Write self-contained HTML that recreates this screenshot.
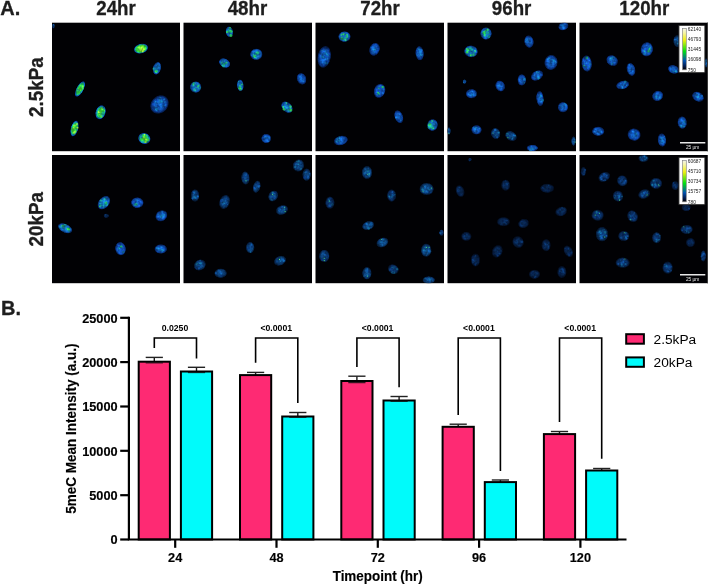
<!DOCTYPE html>
<html><head><meta charset="utf-8"><title>5meC</title>
<style>html,body{margin:0;padding:0;background:#fff;}svg{display:block;}</style>
</head><body>
<svg width="708" height="585" viewBox="0 0 708 585">
<defs><radialGradient id="gY"><stop offset="0" stop-color="#a8f030" stop-opacity="1"/><stop offset="0.45" stop-color="#50e030" stop-opacity="1"/><stop offset="0.7" stop-color="#20c848" stop-opacity="1"/><stop offset="0.85" stop-color="#0a64c4" stop-opacity="0.9"/><stop offset="1" stop-color="#0438a0" stop-opacity="0"/></radialGradient><radialGradient id="gG"><stop offset="0" stop-color="#48dc38" stop-opacity="1"/><stop offset="0.45" stop-color="#2ccc40" stop-opacity="1"/><stop offset="0.7" stop-color="#14a870" stop-opacity="1"/><stop offset="0.85" stop-color="#0a58bc" stop-opacity="0.9"/><stop offset="1" stop-color="#0434a0" stop-opacity="0"/></radialGradient><radialGradient id="gS"><stop offset="0" stop-color="#1254bc" stop-opacity="1"/><stop offset="0.55" stop-color="#1250b8" stop-opacity="1"/><stop offset="0.78" stop-color="#0e46aa" stop-opacity="0.9"/><stop offset="0.9" stop-color="#0a3894" stop-opacity="0.6"/><stop offset="1" stop-color="#062a80" stop-opacity="0"/></radialGradient><radialGradient id="gT"><stop offset="0" stop-color="#1472b4" stop-opacity="1"/><stop offset="0.55" stop-color="#1266b4" stop-opacity="1"/><stop offset="0.78" stop-color="#0e54b0" stop-opacity="0.9"/><stop offset="0.9" stop-color="#0a4098" stop-opacity="0.6"/><stop offset="1" stop-color="#062a80" stop-opacity="0"/></radialGradient><radialGradient id="gB"><stop offset="0" stop-color="#135cb8" stop-opacity="1"/><stop offset="0.5" stop-color="#1156b2" stop-opacity="1"/><stop offset="0.75" stop-color="#0c42a4" stop-opacity="0.85"/><stop offset="0.9" stop-color="#0a3690" stop-opacity="0.5"/><stop offset="1" stop-color="#062060" stop-opacity="0"/></radialGradient><radialGradient id="gD"><stop offset="0" stop-color="#0e4680" stop-opacity="1"/><stop offset="0.5" stop-color="#0c4078" stop-opacity="1"/><stop offset="0.75" stop-color="#0a366c" stop-opacity="0.8"/><stop offset="0.9" stop-color="#082c5e" stop-opacity="0.45"/><stop offset="1" stop-color="#041c48" stop-opacity="0"/></radialGradient><radialGradient id="gE"><stop offset="0" stop-color="#0f4c88" stop-opacity="1"/><stop offset="0.5" stop-color="#0d4680" stop-opacity="1"/><stop offset="0.75" stop-color="#0a3a70" stop-opacity="0.8"/><stop offset="0.9" stop-color="#082e60" stop-opacity="0.45"/><stop offset="1" stop-color="#041c48" stop-opacity="0"/></radialGradient><radialGradient id="gV"><stop offset="0" stop-color="#0b3670" stop-opacity="1"/><stop offset="0.5" stop-color="#0a3268" stop-opacity="1"/><stop offset="0.75" stop-color="#082a5c" stop-opacity="0.8"/><stop offset="0.9" stop-color="#06224c" stop-opacity="0.4"/><stop offset="1" stop-color="#041838" stop-opacity="0"/></radialGradient><radialGradient id="gW"><stop offset="0" stop-color="#092750" stop-opacity="1"/><stop offset="0.5" stop-color="#08244c" stop-opacity="1"/><stop offset="0.75" stop-color="#071e44" stop-opacity="0.75"/><stop offset="0.9" stop-color="#05183a" stop-opacity="0.35"/><stop offset="1" stop-color="#041430" stop-opacity="0"/></radialGradient><linearGradient id="cbar" x1="0" y1="0" x2="0" y2="1"><stop offset="0" stop-color="#f4f4e4"/><stop offset="0.1" stop-color="#f6f6a8"/><stop offset="0.28" stop-color="#eeee10"/><stop offset="0.55" stop-color="#00e010"/><stop offset="0.78" stop-color="#0050b0"/><stop offset="0.92" stop-color="#001848"/><stop offset="1" stop-color="#000000"/></linearGradient><filter id="dotblur" x="-50%" y="-50%" width="200%" height="200%"><feGaussianBlur stdDeviation="0.35"/></filter><filter id="soft0" x="0" y="0" width="100%" height="100%" color-interpolation-filters="sRGB"><feTurbulence type="fractalNoise" baseFrequency="0.32" numOctaves="2" seed="3" result="n"/><feColorMatrix in="n" type="matrix" values="1.8 0 0 0 -0.4  1.8 0 0 0 -0.4  1.8 0 0 0 -0.4  0 0 0 0 1" result="m"/><feComposite in="SourceGraphic" in2="m" operator="arithmetic" k1="0.6" k2="0.72" k3="0" k4="0" result="c"/><feGaussianBlur in="c" stdDeviation="0.65"/></filter><filter id="soft1" x="0" y="0" width="100%" height="100%" color-interpolation-filters="sRGB"><feTurbulence type="fractalNoise" baseFrequency="0.32" numOctaves="2" seed="3" result="n"/><feColorMatrix in="n" type="matrix" values="1.8 0 0 0 -0.4  1.8 0 0 0 -0.4  1.8 0 0 0 -0.4  0 0 0 0 1" result="m"/><feComposite in="SourceGraphic" in2="m" operator="arithmetic" k1="0.6" k2="0.72" k3="0" k4="0" result="c"/><feGaussianBlur in="c" stdDeviation="0.7"/></filter><clipPath id="cp00"><rect x="52" y="22.7" width="128" height="128.5"/></clipPath><clipPath id="cp01"><rect x="183.5" y="22.7" width="128.5" height="128.5"/></clipPath><clipPath id="cp02"><rect x="315.5" y="22.7" width="128.5" height="128.5"/></clipPath><clipPath id="cp03"><rect x="447.5" y="22.7" width="128.5" height="128.5"/></clipPath><clipPath id="cp04"><rect x="579.5" y="22.7" width="128.5" height="128.5"/></clipPath><clipPath id="cp10"><rect x="52" y="155" width="128" height="128.2"/></clipPath><clipPath id="cp11"><rect x="183.5" y="155" width="128.5" height="128.2"/></clipPath><clipPath id="cp12"><rect x="315.5" y="155" width="128.5" height="128.2"/></clipPath><clipPath id="cp13"><rect x="447.5" y="155" width="128.5" height="128.2"/></clipPath><clipPath id="cp14"><rect x="579.5" y="155" width="128.5" height="128.2"/></clipPath></defs>
<rect width="708" height="585" fill="#fff"/>
<g font-family="Liberation Sans, Arial, Helvetica, sans-serif" font-weight="bold" fill="#1e1e1e" stroke="#1e1e1e" stroke-width="0.3"><text x="0.3" y="14.6" font-size="20">A.</text><text x="1" y="314.9" font-size="20">B.</text><text transform="translate(116.0 14.8) scale(0.965 1)" font-size="19.4" text-anchor="middle">24hr</text><text transform="translate(247.4 14.8) scale(0.965 1)" font-size="19.4" text-anchor="middle">48hr</text><text transform="translate(380.0 14.8) scale(0.965 1)" font-size="19.4" text-anchor="middle">72hr</text><text transform="translate(511.6 14.8) scale(0.965 1)" font-size="19.4" text-anchor="middle">96hr</text><text transform="translate(644.3 14.8) scale(0.965 1)" font-size="19.4" text-anchor="middle">120hr</text><text transform="translate(43.4 87.1) rotate(-90) scale(0.97 1)" font-size="19.4" text-anchor="middle">2.5kPa</text><text transform="translate(43.4 219.3) rotate(-90) scale(0.97 1)" font-size="19.4" text-anchor="middle">20kPa</text></g>
<rect x="52" y="22.7" width="128" height="128.5" fill="#010104"/><g clip-path="url(#cp00)"><g filter="url(#soft0)"><ellipse cx="141.0" cy="48.6" rx="7.6" ry="5.1" fill="url(#gY)" transform="rotate(-15 141.0 48.6)"/><circle cx="140.4" cy="50.1" r="1.1" fill="#e0f440" opacity="0.65"/><circle cx="140.3" cy="49.5" r="1.0" fill="#e0f440" opacity="0.62"/><circle cx="142.6" cy="48.7" r="0.9" fill="#20c050" opacity="0.39"/><circle cx="142.4" cy="51.2" r="1.3" fill="#90e830" opacity="0.53"/><circle cx="142.1" cy="48.2" r="1.2" fill="#e0f440" opacity="0.53"/><circle cx="143.5" cy="49.3" r="1.2" fill="#e0f440" opacity="0.67"/><circle cx="138.5" cy="47.5" r="1.0" fill="#e0f440" opacity="0.50"/><circle cx="142.9" cy="51.1" r="0.9" fill="#e0f440" opacity="0.67"/><circle cx="138.4" cy="49.9" r="1.2" fill="#20c050" opacity="0.42"/><circle cx="137.3" cy="48.4" r="1.2" fill="#20c050" opacity="0.43"/><circle cx="142.8" cy="48.0" r="0.9" fill="#20c050" opacity="0.40"/><circle cx="140.0" cy="48.9" r="1.1" fill="#20c050" opacity="0.50"/><circle cx="142.7" cy="46.6" r="1.1" fill="#90e830" opacity="0.58"/><ellipse cx="157.0" cy="68.3" rx="4.2" ry="6.8" fill="url(#gT)" transform="rotate(15 157.0 68.3)"/><circle cx="154.1" cy="68.8" r="1.6" fill="#18b890" opacity="0.61"/><circle cx="158.9" cy="70.4" r="1.3" fill="#0c48b0" opacity="0.56"/><circle cx="155.8" cy="71.1" r="1.3" fill="#30e040" opacity="0.67"/><circle cx="157.1" cy="69.8" r="0.8" fill="#0c48b0" opacity="0.39"/><circle cx="156.2" cy="71.3" r="1.5" fill="#30e040" opacity="0.66"/><circle cx="154.8" cy="66.2" r="1.5" fill="#0c48b0" opacity="0.43"/><circle cx="155.1" cy="69.3" r="1.5" fill="#0c48b0" opacity="0.40"/><circle cx="157.1" cy="70.5" r="1.0" fill="#18b890" opacity="0.58"/><ellipse cx="80.0" cy="89.0" rx="3.8" ry="9" fill="url(#gG)" transform="rotate(28 80.0 89.0)"/><circle cx="79.8" cy="89.4" r="0.9" fill="#60e030" opacity="0.58"/><circle cx="82.7" cy="88.6" r="1.0" fill="#60e030" opacity="0.61"/><circle cx="81.2" cy="92.0" r="1.1" fill="#1070b8" opacity="0.55"/><circle cx="77.6" cy="90.6" r="0.7" fill="#60e030" opacity="0.44"/><circle cx="80.4" cy="90.6" r="0.7" fill="#60e030" opacity="0.43"/><circle cx="80.9" cy="89.5" r="0.7" fill="#60e030" opacity="0.43"/><circle cx="83.0" cy="86.5" r="0.7" fill="#b8ee38" opacity="0.59"/><circle cx="78.6" cy="90.2" r="1.2" fill="#1070b8" opacity="0.47"/><circle cx="79.2" cy="88.8" r="0.7" fill="#60e030" opacity="0.49"/><circle cx="81.5" cy="87.2" r="0.6" fill="#1070b8" opacity="0.49"/><circle cx="79.3" cy="92.9" r="0.6" fill="#60e030" opacity="0.69"/><circle cx="83.2" cy="86.1" r="0.8" fill="#60e030" opacity="0.47"/><ellipse cx="100.6" cy="112.3" rx="5.3" ry="7.6" fill="url(#gG)" transform="rotate(18 100.6 112.3)"/><circle cx="102.2" cy="108.7" r="1.1" fill="#b8ee38" opacity="0.55"/><circle cx="103.5" cy="108.0" r="1.2" fill="#1070b8" opacity="0.56"/><circle cx="101.3" cy="109.8" r="1.0" fill="#60e030" opacity="0.43"/><circle cx="102.3" cy="113.4" r="0.8" fill="#1070b8" opacity="0.59"/><circle cx="96.7" cy="112.9" r="1.3" fill="#1070b8" opacity="0.45"/><circle cx="100.1" cy="114.8" r="0.7" fill="#b8ee38" opacity="0.68"/><circle cx="104.2" cy="110.4" r="0.9" fill="#60e030" opacity="0.64"/><circle cx="102.4" cy="115.3" r="1.2" fill="#1070b8" opacity="0.54"/><circle cx="99.0" cy="112.1" r="1.2" fill="#b8ee38" opacity="0.74"/><circle cx="103.0" cy="112.5" r="0.9" fill="#1070b8" opacity="0.53"/><circle cx="100.7" cy="114.1" r="0.7" fill="#1070b8" opacity="0.55"/><circle cx="101.4" cy="116.7" r="1.3" fill="#60e030" opacity="0.52"/><circle cx="99.5" cy="111.3" r="0.6" fill="#1070b8" opacity="0.52"/><circle cx="97.4" cy="110.3" r="0.9" fill="#1070b8" opacity="0.56"/><ellipse cx="159.5" cy="104.5" rx="10.5" ry="8.8" fill="url(#gB)" transform="rotate(-45 159.5 104.5)"/><circle cx="162.3" cy="106.0" r="0.8" fill="#1a80d0" opacity="0.50"/><circle cx="162.2" cy="107.6" r="0.7" fill="#0a3c98" opacity="0.44"/><circle cx="156.4" cy="109.3" r="1.2" fill="#18a8b0" opacity="0.53"/><circle cx="155.6" cy="108.4" r="1.0" fill="#1a80d0" opacity="0.47"/><circle cx="159.9" cy="104.6" r="1.2" fill="#1a80d0" opacity="0.47"/><circle cx="155.6" cy="101.8" r="0.8" fill="#18a8b0" opacity="0.45"/><circle cx="158.4" cy="102.7" r="1.0" fill="#1a80d0" opacity="0.43"/><circle cx="156.9" cy="100.8" r="1.0" fill="#0a3c98" opacity="0.58"/><circle cx="156.8" cy="109.6" r="1.0" fill="#18a8b0" opacity="0.48"/><circle cx="156.7" cy="109.2" r="0.9" fill="#0a3c98" opacity="0.53"/><circle cx="160.2" cy="97.8" r="0.8" fill="#18a8b0" opacity="0.54"/><circle cx="159.2" cy="102.0" r="0.7" fill="#18a8b0" opacity="0.35"/><circle cx="160.8" cy="105.6" r="1.1" fill="#0a3c98" opacity="0.58"/><circle cx="165.2" cy="105.1" r="1.1" fill="#1a80d0" opacity="0.57"/><circle cx="161.5" cy="101.6" r="1.3" fill="#18a8b0" opacity="0.44"/><circle cx="164.1" cy="99.4" r="0.7" fill="#18a8b0" opacity="0.44"/><circle cx="159.9" cy="107.4" r="0.8" fill="#0a3c98" opacity="0.36"/><circle cx="155.2" cy="106.9" r="0.6" fill="#1a80d0" opacity="0.51"/><circle cx="158.1" cy="105.8" r="1.3" fill="#0a3c98" opacity="0.59"/><circle cx="163.1" cy="103.7" r="0.6" fill="#0a3c98" opacity="0.42"/><circle cx="164.0" cy="104.2" r="1.2" fill="#0a3c98" opacity="0.42"/><circle cx="166.0" cy="104.9" r="1.0" fill="#0a3c98" opacity="0.38"/><circle cx="165.0" cy="101.7" r="0.9" fill="#1a80d0" opacity="0.59"/><circle cx="153.3" cy="104.7" r="0.7" fill="#0a3c98" opacity="0.38"/><circle cx="159.6" cy="99.9" r="0.8" fill="#18a8b0" opacity="0.53"/><circle cx="160.9" cy="106.3" r="1.0" fill="#1a80d0" opacity="0.39"/><circle cx="161.0" cy="104.7" r="0.7" fill="#1a80d0" opacity="0.43"/><ellipse cx="74.5" cy="128.5" rx="4" ry="8.5" fill="url(#gG)" transform="rotate(15 74.5 128.5)"/><circle cx="75.4" cy="125.3" r="1.0" fill="#b8ee38" opacity="0.59"/><circle cx="75.8" cy="129.2" r="0.6" fill="#1070b8" opacity="0.49"/><circle cx="74.2" cy="132.5" r="1.3" fill="#b8ee38" opacity="0.74"/><circle cx="72.3" cy="129.7" r="1.2" fill="#60e030" opacity="0.56"/><circle cx="74.9" cy="122.8" r="0.8" fill="#1070b8" opacity="0.53"/><circle cx="74.1" cy="125.4" r="0.8" fill="#b8ee38" opacity="0.52"/><circle cx="76.1" cy="131.3" r="0.8" fill="#b8ee38" opacity="0.51"/><circle cx="77.1" cy="124.2" r="1.1" fill="#b8ee38" opacity="0.56"/><circle cx="73.0" cy="132.2" r="0.7" fill="#60e030" opacity="0.49"/><circle cx="77.5" cy="127.8" r="1.0" fill="#b8ee38" opacity="0.79"/><circle cx="73.0" cy="131.6" r="0.6" fill="#60e030" opacity="0.55"/><circle cx="73.3" cy="128.1" r="1.0" fill="#b8ee38" opacity="0.56"/><ellipse cx="144.3" cy="138.5" rx="6.6" ry="5.8" fill="url(#gG)" transform="rotate(20 144.3 138.5)"/><circle cx="146.2" cy="140.7" r="0.6" fill="#b8ee38" opacity="0.58"/><circle cx="143.6" cy="141.6" r="1.0" fill="#1070b8" opacity="0.52"/><circle cx="144.7" cy="134.6" r="0.9" fill="#b8ee38" opacity="0.80"/><circle cx="145.6" cy="142.0" r="1.1" fill="#b8ee38" opacity="0.75"/><circle cx="147.8" cy="137.6" r="1.1" fill="#1070b8" opacity="0.39"/><circle cx="141.3" cy="136.9" r="1.2" fill="#1070b8" opacity="0.56"/><circle cx="141.3" cy="135.3" r="1.1" fill="#1070b8" opacity="0.42"/><circle cx="145.8" cy="139.4" r="0.9" fill="#b8ee38" opacity="0.75"/><circle cx="141.4" cy="136.2" r="1.0" fill="#1070b8" opacity="0.48"/><circle cx="148.3" cy="140.0" r="1.1" fill="#60e030" opacity="0.57"/><circle cx="144.0" cy="137.4" r="1.1" fill="#b8ee38" opacity="0.50"/><circle cx="142.7" cy="141.7" r="0.7" fill="#1070b8" opacity="0.59"/><circle cx="141.5" cy="137.6" r="0.9" fill="#1070b8" opacity="0.54"/><ellipse cx="53.5" cy="26.0" rx="1.5" ry="2.5" fill="url(#gD)" transform="rotate(0 53.5 26.0)"/><circle cx="52.9" cy="25.0" r="0.6" fill="#1668c0" opacity="0.42"/><circle cx="53.5" cy="25.0" r="1.0" fill="#1668c0" opacity="0.37"/><circle cx="53.4" cy="27.5" r="1.1" fill="#072a70" opacity="0.43"/></g></g><rect x="183.5" y="22.7" width="128.5" height="128.5" fill="#010104"/><g clip-path="url(#cp01)"><g filter="url(#soft0)"><ellipse cx="229.4" cy="31.8" rx="4" ry="5.6" fill="url(#gT)" transform="rotate(-10 229.4 31.8)"/><circle cx="227.4" cy="31.9" r="1.2" fill="#30e040" opacity="0.81"/><circle cx="230.9" cy="35.4" r="1.5" fill="#30e040" opacity="0.67"/><circle cx="230.0" cy="28.1" r="1.2" fill="#30e040" opacity="0.58"/><circle cx="230.5" cy="31.0" r="1.3" fill="#30e040" opacity="0.69"/><circle cx="230.3" cy="31.2" r="1.5" fill="#18b890" opacity="0.67"/><circle cx="228.7" cy="30.0" r="1.5" fill="#18b890" opacity="0.43"/><circle cx="231.4" cy="31.5" r="1.2" fill="#30e040" opacity="0.56"/><ellipse cx="256.3" cy="54.3" rx="6.5" ry="6" fill="url(#gT)" transform="rotate(0 256.3 54.3)"/><circle cx="254.8" cy="56.3" r="1.5" fill="#30e040" opacity="0.77"/><circle cx="257.2" cy="53.0" r="1.5" fill="#18b890" opacity="0.67"/><circle cx="255.6" cy="56.9" r="1.1" fill="#0c48b0" opacity="0.50"/><circle cx="254.3" cy="56.5" r="1.0" fill="#30e040" opacity="0.54"/><circle cx="257.6" cy="52.3" r="1.5" fill="#30e040" opacity="0.60"/><circle cx="254.3" cy="54.2" r="1.1" fill="#0c48b0" opacity="0.57"/><circle cx="257.7" cy="51.1" r="1.5" fill="#0c48b0" opacity="0.49"/><circle cx="256.1" cy="53.4" r="1.4" fill="#18b890" opacity="0.63"/><circle cx="254.8" cy="52.5" r="0.8" fill="#0c48b0" opacity="0.39"/><circle cx="253.6" cy="54.7" r="1.0" fill="#18b890" opacity="0.69"/><circle cx="256.1" cy="57.8" r="1.0" fill="#18b890" opacity="0.53"/><ellipse cx="224.6" cy="63.0" rx="6.2" ry="4.6" fill="url(#gT)" transform="rotate(30 224.6 63.0)"/><circle cx="224.8" cy="64.4" r="1.0" fill="#0c48b0" opacity="0.48"/><circle cx="223.7" cy="66.1" r="1.6" fill="#18b890" opacity="0.46"/><circle cx="224.5" cy="64.0" r="1.1" fill="#30e040" opacity="0.59"/><circle cx="223.2" cy="65.1" r="1.5" fill="#18b890" opacity="0.54"/><circle cx="221.6" cy="62.7" r="1.1" fill="#30e040" opacity="0.53"/><circle cx="222.3" cy="65.4" r="0.9" fill="#18b890" opacity="0.60"/><circle cx="226.4" cy="62.7" r="1.0" fill="#30e040" opacity="0.65"/><circle cx="220.5" cy="61.9" r="1.5" fill="#0c48b0" opacity="0.37"/><ellipse cx="195.7" cy="87.1" rx="6" ry="6" fill="url(#gT)" transform="rotate(0 195.7 87.1)"/><circle cx="199.3" cy="87.8" r="1.5" fill="#18b890" opacity="0.58"/><circle cx="198.4" cy="87.1" r="1.5" fill="#0c48b0" opacity="0.57"/><circle cx="197.8" cy="86.7" r="0.9" fill="#30e040" opacity="0.69"/><circle cx="194.0" cy="83.3" r="1.4" fill="#18b890" opacity="0.63"/><circle cx="192.6" cy="87.9" r="0.8" fill="#0c48b0" opacity="0.42"/><circle cx="198.7" cy="85.4" r="1.0" fill="#30e040" opacity="0.60"/><circle cx="193.3" cy="84.4" r="0.9" fill="#30e040" opacity="0.69"/><circle cx="193.4" cy="85.8" r="1.0" fill="#18b890" opacity="0.42"/><circle cx="194.8" cy="89.9" r="1.6" fill="#18b890" opacity="0.67"/><circle cx="193.6" cy="87.4" r="1.0" fill="#0c48b0" opacity="0.53"/><ellipse cx="240.3" cy="85.4" rx="3.6" ry="6.2" fill="url(#gT)" transform="rotate(-5 240.3 85.4)"/><circle cx="240.2" cy="86.0" r="1.2" fill="#18b890" opacity="0.54"/><circle cx="240.5" cy="89.0" r="1.5" fill="#30e040" opacity="0.52"/><circle cx="239.6" cy="87.9" r="1.3" fill="#30e040" opacity="0.78"/><circle cx="239.9" cy="82.3" r="1.0" fill="#0c48b0" opacity="0.43"/><circle cx="240.7" cy="83.4" r="1.0" fill="#0c48b0" opacity="0.43"/><circle cx="242.0" cy="84.3" r="0.9" fill="#30e040" opacity="0.65"/><circle cx="238.7" cy="81.8" r="0.9" fill="#18b890" opacity="0.48"/><ellipse cx="301.6" cy="78.8" rx="5" ry="6.2" fill="url(#gB)" transform="rotate(-20 301.6 78.8)"/><circle cx="302.8" cy="78.1" r="0.6" fill="#1a80d0" opacity="0.45"/><circle cx="303.3" cy="75.5" r="1.1" fill="#0a3c98" opacity="0.58"/><circle cx="301.5" cy="80.6" r="1.3" fill="#0a3c98" opacity="0.37"/><circle cx="299.7" cy="77.0" r="0.9" fill="#1a80d0" opacity="0.40"/><circle cx="303.4" cy="78.2" r="0.8" fill="#0a3c98" opacity="0.39"/><circle cx="302.9" cy="77.8" r="0.8" fill="#0a3c98" opacity="0.56"/><circle cx="301.1" cy="79.4" r="0.9" fill="#1a80d0" opacity="0.58"/><circle cx="303.2" cy="80.9" r="1.2" fill="#1a80d0" opacity="0.46"/><circle cx="301.5" cy="75.0" r="0.6" fill="#1a80d0" opacity="0.38"/><circle cx="302.7" cy="77.2" r="1.1" fill="#0a3c98" opacity="0.44"/><ellipse cx="287.0" cy="107.2" rx="7" ry="5" fill="url(#gT)" transform="rotate(45 287.0 107.2)"/><circle cx="284.0" cy="109.2" r="1.3" fill="#30e040" opacity="0.75"/><circle cx="285.0" cy="107.7" r="0.8" fill="#0c48b0" opacity="0.58"/><circle cx="286.5" cy="103.1" r="0.8" fill="#30e040" opacity="0.67"/><circle cx="291.0" cy="109.9" r="1.1" fill="#30e040" opacity="0.66"/><circle cx="283.5" cy="103.9" r="0.9" fill="#0c48b0" opacity="0.54"/><circle cx="290.4" cy="106.6" r="1.3" fill="#30e040" opacity="0.62"/><circle cx="283.2" cy="106.9" r="0.9" fill="#30e040" opacity="0.77"/><circle cx="286.4" cy="107.9" r="0.8" fill="#18b890" opacity="0.51"/><circle cx="290.6" cy="110.2" r="1.6" fill="#30e040" opacity="0.54"/><circle cx="288.0" cy="110.3" r="1.4" fill="#18b890" opacity="0.49"/><ellipse cx="266.2" cy="138.5" rx="5.2" ry="5" fill="url(#gB)" transform="rotate(0 266.2 138.5)"/><circle cx="263.6" cy="139.9" r="1.1" fill="#0a3c98" opacity="0.56"/><circle cx="265.5" cy="137.4" r="1.2" fill="#1a80d0" opacity="0.50"/><circle cx="264.0" cy="140.7" r="0.7" fill="#1a80d0" opacity="0.42"/><circle cx="268.2" cy="141.3" r="1.0" fill="#1a80d0" opacity="0.46"/><circle cx="268.9" cy="138.4" r="0.8" fill="#0a3c98" opacity="0.52"/><circle cx="267.4" cy="138.4" r="0.9" fill="#0a3c98" opacity="0.56"/><circle cx="266.8" cy="138.1" r="0.8" fill="#1a80d0" opacity="0.41"/><circle cx="269.0" cy="138.0" r="1.3" fill="#1a80d0" opacity="0.57"/><circle cx="264.4" cy="139.1" r="1.1" fill="#0a3c98" opacity="0.39"/></g></g><rect x="315.5" y="22.7" width="128.5" height="128.5" fill="#010104"/><g clip-path="url(#cp02)"><g filter="url(#soft0)"><ellipse cx="344.5" cy="36.6" rx="6.5" ry="5.6" fill="url(#gT)" transform="rotate(0 344.5 36.6)"/><circle cx="341.5" cy="34.8" r="1.0" fill="#30e040" opacity="0.56"/><circle cx="345.2" cy="38.6" r="1.3" fill="#18b890" opacity="0.48"/><circle cx="347.2" cy="36.8" r="1.3" fill="#30e040" opacity="0.62"/><circle cx="345.7" cy="40.0" r="1.2" fill="#30e040" opacity="0.54"/><circle cx="341.8" cy="38.4" r="1.3" fill="#30e040" opacity="0.57"/><circle cx="343.5" cy="34.2" r="1.0" fill="#30e040" opacity="0.83"/><circle cx="343.2" cy="39.4" r="1.1" fill="#18b890" opacity="0.66"/><circle cx="347.3" cy="36.5" r="1.0" fill="#18b890" opacity="0.48"/><circle cx="348.9" cy="36.7" r="1.1" fill="#0c48b0" opacity="0.46"/><circle cx="346.9" cy="34.8" r="0.9" fill="#30e040" opacity="0.70"/><ellipse cx="324.2" cy="56.9" rx="7" ry="11.5" fill="url(#gB)" transform="rotate(10 324.2 56.9)"/><circle cx="322.3" cy="50.4" r="0.7" fill="#18a8b0" opacity="0.41"/><circle cx="322.3" cy="56.5" r="0.8" fill="#18a8b0" opacity="0.53"/><circle cx="326.3" cy="61.0" r="1.2" fill="#0a3c98" opacity="0.41"/><circle cx="326.6" cy="63.2" r="1.3" fill="#18a8b0" opacity="0.34"/><circle cx="327.4" cy="55.1" r="1.2" fill="#18a8b0" opacity="0.51"/><circle cx="325.5" cy="63.4" r="0.8" fill="#18a8b0" opacity="0.52"/><circle cx="325.8" cy="54.0" r="0.8" fill="#18a8b0" opacity="0.44"/><circle cx="322.6" cy="58.6" r="0.8" fill="#0a3c98" opacity="0.58"/><circle cx="327.5" cy="59.1" r="1.1" fill="#1a80d0" opacity="0.56"/><circle cx="326.3" cy="61.7" r="1.0" fill="#0a3c98" opacity="0.43"/><circle cx="320.4" cy="59.3" r="0.9" fill="#0a3c98" opacity="0.47"/><circle cx="323.4" cy="57.2" r="1.0" fill="#18a8b0" opacity="0.38"/><circle cx="325.8" cy="49.8" r="0.9" fill="#1a80d0" opacity="0.47"/><circle cx="325.3" cy="59.0" r="0.9" fill="#1a80d0" opacity="0.47"/><circle cx="323.2" cy="56.6" r="1.0" fill="#1a80d0" opacity="0.54"/><circle cx="325.8" cy="51.3" r="0.6" fill="#18a8b0" opacity="0.41"/><circle cx="326.1" cy="56.3" r="1.2" fill="#0a3c98" opacity="0.54"/><circle cx="325.6" cy="53.8" r="1.3" fill="#18a8b0" opacity="0.54"/><circle cx="326.2" cy="55.5" r="1.2" fill="#0a3c98" opacity="0.38"/><circle cx="320.6" cy="62.2" r="0.7" fill="#0a3c98" opacity="0.43"/><circle cx="325.5" cy="54.2" r="1.0" fill="#0a3c98" opacity="0.41"/><circle cx="322.9" cy="62.6" r="0.8" fill="#1a80d0" opacity="0.40"/><circle cx="325.6" cy="64.0" r="1.1" fill="#0a3c98" opacity="0.40"/><circle cx="325.0" cy="54.3" r="1.0" fill="#0a3c98" opacity="0.45"/><ellipse cx="374.5" cy="49.3" rx="5.5" ry="7" fill="url(#gB)" transform="rotate(20 374.5 49.3)"/><circle cx="377.4" cy="47.5" r="1.0" fill="#0a3c98" opacity="0.39"/><circle cx="377.5" cy="50.2" r="0.9" fill="#0a3c98" opacity="0.42"/><circle cx="377.4" cy="50.1" r="0.9" fill="#0a3c98" opacity="0.47"/><circle cx="374.6" cy="53.5" r="0.6" fill="#0a3c98" opacity="0.42"/><circle cx="373.4" cy="44.8" r="1.0" fill="#0a3c98" opacity="0.44"/><circle cx="375.2" cy="49.6" r="0.7" fill="#18a8b0" opacity="0.43"/><circle cx="371.1" cy="47.7" r="0.7" fill="#1a80d0" opacity="0.52"/><circle cx="374.7" cy="49.4" r="0.8" fill="#1a80d0" opacity="0.45"/><circle cx="373.7" cy="53.0" r="1.0" fill="#1a80d0" opacity="0.51"/><circle cx="373.1" cy="49.1" r="1.3" fill="#1a80d0" opacity="0.40"/><circle cx="376.2" cy="52.3" r="1.2" fill="#0a3c98" opacity="0.46"/><circle cx="374.3" cy="49.8" r="1.1" fill="#18a8b0" opacity="0.41"/><ellipse cx="419.6" cy="53.2" rx="4.5" ry="7.5" fill="url(#gB)" transform="rotate(-5 419.6 53.2)"/><circle cx="418.0" cy="50.5" r="1.3" fill="#0a3c98" opacity="0.42"/><circle cx="420.1" cy="52.5" r="1.0" fill="#18a8b0" opacity="0.38"/><circle cx="422.4" cy="54.7" r="0.6" fill="#18a8b0" opacity="0.54"/><circle cx="420.7" cy="55.0" r="1.0" fill="#18a8b0" opacity="0.47"/><circle cx="419.9" cy="51.1" r="0.8" fill="#1a80d0" opacity="0.37"/><circle cx="421.5" cy="50.0" r="1.1" fill="#1a80d0" opacity="0.56"/><circle cx="419.2" cy="49.5" r="1.1" fill="#18a8b0" opacity="0.38"/><circle cx="421.0" cy="54.7" r="0.6" fill="#1a80d0" opacity="0.54"/><circle cx="418.2" cy="48.6" r="1.1" fill="#1a80d0" opacity="0.49"/><circle cx="417.1" cy="55.3" r="1.0" fill="#1a80d0" opacity="0.51"/><circle cx="421.0" cy="52.5" r="1.2" fill="#1a80d0" opacity="0.42"/><ellipse cx="379.6" cy="90.8" rx="6" ry="7.6" fill="url(#gS)" transform="rotate(20 379.6 90.8)"/><circle cx="378.3" cy="95.3" r="1.3" fill="#0a3a98" opacity="0.44"/><circle cx="382.0" cy="89.4" r="0.8" fill="#0a3a98" opacity="0.51"/><circle cx="379.9" cy="86.5" r="1.3" fill="#1a78d0" opacity="0.56"/><circle cx="380.0" cy="85.9" r="0.9" fill="#0a3a98" opacity="0.50"/><circle cx="378.1" cy="92.8" r="1.0" fill="#28e040" opacity="0.77"/><circle cx="379.8" cy="91.6" r="0.7" fill="#0a3a98" opacity="0.44"/><circle cx="379.8" cy="91.6" r="0.6" fill="#1a78d0" opacity="0.51"/><circle cx="380.0" cy="86.2" r="0.6" fill="#1a78d0" opacity="0.45"/><circle cx="382.7" cy="87.1" r="1.2" fill="#28e040" opacity="0.76"/><circle cx="383.9" cy="89.5" r="0.7" fill="#18a0a0" opacity="0.39"/><circle cx="382.9" cy="93.1" r="1.2" fill="#1a78d0" opacity="0.56"/><circle cx="378.9" cy="88.2" r="0.7" fill="#28e040" opacity="0.72"/><circle cx="379.2" cy="93.8" r="0.9" fill="#28e040" opacity="0.56"/><circle cx="377.4" cy="94.8" r="0.9" fill="#18a0a0" opacity="0.59"/><ellipse cx="398.8" cy="116.7" rx="4.5" ry="7" fill="url(#gB)" transform="rotate(-20 398.8 116.7)"/><circle cx="396.0" cy="117.6" r="1.0" fill="#1a80d0" opacity="0.46"/><circle cx="396.9" cy="119.2" r="0.8" fill="#0a3c98" opacity="0.49"/><circle cx="401.0" cy="120.8" r="0.7" fill="#0a3c98" opacity="0.40"/><circle cx="400.2" cy="116.2" r="1.1" fill="#0a3c98" opacity="0.36"/><circle cx="396.7" cy="117.7" r="1.2" fill="#1a80d0" opacity="0.48"/><circle cx="398.5" cy="120.8" r="0.8" fill="#0a3c98" opacity="0.43"/><circle cx="400.8" cy="120.4" r="0.9" fill="#1a80d0" opacity="0.51"/><circle cx="401.9" cy="117.9" r="1.1" fill="#0a3c98" opacity="0.51"/><circle cx="398.5" cy="119.5" r="0.9" fill="#0a3c98" opacity="0.38"/><circle cx="399.0" cy="116.1" r="0.7" fill="#1a80d0" opacity="0.58"/><ellipse cx="432.5" cy="125.0" rx="5.6" ry="6.2" fill="url(#gT)" transform="rotate(10 432.5 125.0)"/><circle cx="430.1" cy="124.5" r="1.5" fill="#30e040" opacity="0.67"/><circle cx="429.3" cy="123.7" r="1.4" fill="#18b890" opacity="0.52"/><circle cx="431.5" cy="126.4" r="1.5" fill="#18b890" opacity="0.63"/><circle cx="433.3" cy="127.8" r="1.4" fill="#18b890" opacity="0.46"/><circle cx="428.7" cy="125.3" r="1.0" fill="#30e040" opacity="0.61"/><circle cx="432.1" cy="120.9" r="0.9" fill="#30e040" opacity="0.59"/><circle cx="430.7" cy="127.6" r="0.9" fill="#30e040" opacity="0.57"/><circle cx="436.0" cy="125.0" r="0.9" fill="#0c48b0" opacity="0.38"/><circle cx="429.0" cy="127.4" r="1.4" fill="#18b890" opacity="0.54"/><circle cx="433.0" cy="128.5" r="0.9" fill="#30e040" opacity="0.64"/><ellipse cx="340.8" cy="140.5" rx="7.5" ry="5" fill="url(#gB)" transform="rotate(-15 340.8 140.5)"/><circle cx="344.1" cy="140.1" r="1.2" fill="#0a3c98" opacity="0.48"/><circle cx="337.9" cy="139.4" r="0.7" fill="#18a8b0" opacity="0.42"/><circle cx="339.6" cy="137.3" r="0.9" fill="#18a8b0" opacity="0.49"/><circle cx="338.8" cy="141.9" r="1.1" fill="#0a3c98" opacity="0.55"/><circle cx="338.5" cy="137.8" r="1.1" fill="#0a3c98" opacity="0.47"/><circle cx="339.9" cy="143.5" r="0.7" fill="#18a8b0" opacity="0.50"/><circle cx="339.1" cy="138.1" r="0.8" fill="#18a8b0" opacity="0.43"/><circle cx="338.0" cy="139.6" r="1.1" fill="#0a3c98" opacity="0.40"/><circle cx="337.5" cy="138.7" r="0.9" fill="#18a8b0" opacity="0.54"/><circle cx="344.7" cy="140.1" r="0.7" fill="#0a3c98" opacity="0.59"/><circle cx="339.1" cy="140.8" r="1.0" fill="#18a8b0" opacity="0.49"/><circle cx="336.6" cy="141.4" r="1.2" fill="#18a8b0" opacity="0.42"/></g></g><rect x="447.5" y="22.7" width="128.5" height="128.5" fill="#010104"/><g clip-path="url(#cp03)"><g filter="url(#soft0)"><ellipse cx="486.0" cy="33.5" rx="6" ry="6.5" fill="url(#gT)" transform="rotate(0 486.0 33.5)"/><circle cx="487.9" cy="32.8" r="1.3" fill="#18b890" opacity="0.63"/><circle cx="489.1" cy="36.7" r="1.1" fill="#30e040" opacity="0.60"/><circle cx="485.6" cy="33.8" r="1.1" fill="#18b890" opacity="0.62"/><circle cx="484.7" cy="35.4" r="1.0" fill="#18b890" opacity="0.68"/><circle cx="484.0" cy="33.1" r="1.4" fill="#18b890" opacity="0.48"/><circle cx="488.6" cy="36.5" r="1.4" fill="#18b890" opacity="0.55"/><circle cx="484.1" cy="32.7" r="1.6" fill="#30e040" opacity="0.73"/><circle cx="487.6" cy="29.7" r="1.2" fill="#30e040" opacity="0.70"/><circle cx="488.8" cy="36.5" r="1.1" fill="#0c48b0" opacity="0.42"/><circle cx="484.5" cy="35.2" r="1.1" fill="#30e040" opacity="0.51"/><circle cx="485.6" cy="31.1" r="1.0" fill="#30e040" opacity="0.67"/><ellipse cx="471.0" cy="51.4" rx="7.2" ry="6.2" fill="url(#gT)" transform="rotate(10 471.0 51.4)"/><circle cx="467.1" cy="52.3" r="1.3" fill="#30e040" opacity="0.83"/><circle cx="471.9" cy="50.7" r="1.5" fill="#0c48b0" opacity="0.55"/><circle cx="473.4" cy="55.0" r="1.3" fill="#30e040" opacity="0.51"/><circle cx="475.1" cy="51.0" r="1.0" fill="#30e040" opacity="0.56"/><circle cx="470.8" cy="55.3" r="1.1" fill="#30e040" opacity="0.82"/><circle cx="471.8" cy="49.8" r="1.5" fill="#18b890" opacity="0.64"/><circle cx="469.3" cy="47.4" r="1.4" fill="#0c48b0" opacity="0.41"/><circle cx="470.2" cy="48.2" r="1.4" fill="#18b890" opacity="0.67"/><circle cx="468.7" cy="50.2" r="1.0" fill="#30e040" opacity="0.68"/><circle cx="474.1" cy="53.1" r="0.9" fill="#18b890" opacity="0.56"/><circle cx="466.6" cy="49.6" r="0.8" fill="#0c48b0" opacity="0.47"/><circle cx="467.4" cy="49.3" r="1.5" fill="#30e040" opacity="0.65"/><ellipse cx="529.0" cy="41.6" rx="5" ry="6.6" fill="url(#gB)" transform="rotate(-10 529.0 41.6)"/><circle cx="529.9" cy="41.1" r="1.0" fill="#0a3c98" opacity="0.37"/><circle cx="526.3" cy="39.5" r="1.3" fill="#1a80d0" opacity="0.60"/><circle cx="526.5" cy="41.8" r="1.2" fill="#1a80d0" opacity="0.53"/><circle cx="527.2" cy="39.9" r="1.2" fill="#1a80d0" opacity="0.47"/><circle cx="525.8" cy="41.5" r="0.7" fill="#18a8b0" opacity="0.42"/><circle cx="525.7" cy="40.7" r="0.8" fill="#0a3c98" opacity="0.46"/><circle cx="527.1" cy="41.9" r="1.0" fill="#0a3c98" opacity="0.52"/><circle cx="529.1" cy="38.9" r="0.8" fill="#1a80d0" opacity="0.50"/><circle cx="526.4" cy="38.9" r="0.6" fill="#0a3c98" opacity="0.57"/><circle cx="528.2" cy="41.4" r="0.8" fill="#1a80d0" opacity="0.41"/><circle cx="531.1" cy="39.4" r="1.1" fill="#0a3c98" opacity="0.58"/><ellipse cx="563.4" cy="26.3" rx="5.5" ry="4.2" fill="url(#gB)" transform="rotate(-20 563.4 26.3)"/><circle cx="560.6" cy="25.7" r="1.0" fill="#0a3c98" opacity="0.50"/><circle cx="562.2" cy="25.4" r="1.1" fill="#18a8b0" opacity="0.50"/><circle cx="564.9" cy="26.6" r="0.6" fill="#0a3c98" opacity="0.58"/><circle cx="561.6" cy="25.3" r="1.2" fill="#0a3c98" opacity="0.49"/><circle cx="563.9" cy="27.9" r="0.9" fill="#1a80d0" opacity="0.46"/><circle cx="560.4" cy="25.0" r="0.6" fill="#18a8b0" opacity="0.34"/><circle cx="566.5" cy="27.1" r="1.0" fill="#0a3c98" opacity="0.47"/><circle cx="565.8" cy="25.6" r="1.0" fill="#0a3c98" opacity="0.60"/><ellipse cx="551.0" cy="62.4" rx="7" ry="8" fill="url(#gB)" transform="rotate(10 551.0 62.4)"/><circle cx="547.8" cy="62.4" r="0.7" fill="#0a3c98" opacity="0.41"/><circle cx="551.3" cy="63.0" r="0.6" fill="#0a3c98" opacity="0.39"/><circle cx="552.5" cy="62.3" r="1.2" fill="#1a80d0" opacity="0.36"/><circle cx="551.0" cy="59.6" r="1.1" fill="#1a80d0" opacity="0.37"/><circle cx="552.5" cy="57.8" r="1.2" fill="#0a3c98" opacity="0.38"/><circle cx="548.7" cy="58.4" r="0.9" fill="#0a3c98" opacity="0.42"/><circle cx="555.3" cy="62.1" r="0.6" fill="#1a80d0" opacity="0.52"/><circle cx="551.8" cy="61.0" r="0.8" fill="#0a3c98" opacity="0.40"/><circle cx="553.8" cy="59.8" r="0.6" fill="#1a80d0" opacity="0.50"/><circle cx="546.9" cy="63.5" r="0.7" fill="#0a3c98" opacity="0.45"/><circle cx="549.2" cy="58.4" r="0.9" fill="#18a8b0" opacity="0.50"/><circle cx="555.4" cy="61.4" r="1.0" fill="#1a80d0" opacity="0.37"/><circle cx="555.2" cy="62.3" r="1.2" fill="#1a80d0" opacity="0.51"/><circle cx="555.6" cy="62.5" r="1.0" fill="#1a80d0" opacity="0.46"/><circle cx="553.7" cy="60.6" r="1.1" fill="#18a8b0" opacity="0.53"/><circle cx="552.4" cy="59.7" r="0.6" fill="#1a80d0" opacity="0.46"/><circle cx="547.6" cy="59.1" r="1.2" fill="#1a80d0" opacity="0.56"/><ellipse cx="537.0" cy="75.5" rx="7" ry="5" fill="url(#gB)" transform="rotate(-30 537.0 75.5)"/><circle cx="537.0" cy="71.9" r="1.0" fill="#1a80d0" opacity="0.56"/><circle cx="536.9" cy="72.4" r="1.2" fill="#1a80d0" opacity="0.38"/><circle cx="532.8" cy="76.7" r="0.7" fill="#0a3c98" opacity="0.58"/><circle cx="538.7" cy="77.7" r="1.1" fill="#18a8b0" opacity="0.38"/><circle cx="538.4" cy="78.3" r="1.2" fill="#18a8b0" opacity="0.35"/><circle cx="536.9" cy="72.2" r="0.8" fill="#18a8b0" opacity="0.53"/><circle cx="538.5" cy="72.6" r="0.9" fill="#18a8b0" opacity="0.37"/><circle cx="538.4" cy="76.4" r="1.1" fill="#1a80d0" opacity="0.50"/><circle cx="535.2" cy="78.3" r="0.7" fill="#1a80d0" opacity="0.60"/><circle cx="536.4" cy="76.8" r="1.0" fill="#0a3c98" opacity="0.40"/><circle cx="534.3" cy="75.7" r="1.0" fill="#1a80d0" opacity="0.37"/><ellipse cx="521.8" cy="79.9" rx="4.6" ry="6" fill="url(#gB)" transform="rotate(0 521.8 79.9)"/><circle cx="524.9" cy="79.7" r="0.9" fill="#18a8b0" opacity="0.39"/><circle cx="522.2" cy="77.1" r="1.3" fill="#0a3c98" opacity="0.56"/><circle cx="523.4" cy="79.4" r="0.6" fill="#1a80d0" opacity="0.40"/><circle cx="522.4" cy="80.4" r="1.0" fill="#0a3c98" opacity="0.47"/><circle cx="524.8" cy="78.6" r="0.6" fill="#18a8b0" opacity="0.42"/><circle cx="524.2" cy="82.8" r="0.8" fill="#18a8b0" opacity="0.47"/><circle cx="524.4" cy="78.9" r="0.9" fill="#18a8b0" opacity="0.37"/><circle cx="525.0" cy="79.0" r="0.8" fill="#1a80d0" opacity="0.42"/><circle cx="519.9" cy="83.2" r="1.2" fill="#0a3c98" opacity="0.37"/><ellipse cx="500.2" cy="86.0" rx="5" ry="6" fill="url(#gB)" transform="rotate(-25 500.2 86.0)"/><circle cx="499.3" cy="82.5" r="1.1" fill="#0a3c98" opacity="0.37"/><circle cx="503.2" cy="87.9" r="1.3" fill="#0a3c98" opacity="0.43"/><circle cx="497.0" cy="85.3" r="0.7" fill="#1a80d0" opacity="0.42"/><circle cx="502.7" cy="87.2" r="0.7" fill="#1a80d0" opacity="0.39"/><circle cx="499.9" cy="85.7" r="1.1" fill="#1a80d0" opacity="0.37"/><circle cx="501.2" cy="84.6" r="1.3" fill="#0a3c98" opacity="0.57"/><circle cx="502.5" cy="87.4" r="0.7" fill="#0a3c98" opacity="0.56"/><circle cx="497.8" cy="84.8" r="0.8" fill="#0a3c98" opacity="0.47"/><circle cx="498.8" cy="85.3" r="0.8" fill="#1a80d0" opacity="0.53"/><circle cx="498.8" cy="86.1" r="1.2" fill="#1a80d0" opacity="0.46"/><ellipse cx="471.5" cy="93.7" rx="6" ry="5" fill="url(#gB)" transform="rotate(0 471.5 93.7)"/><circle cx="472.8" cy="95.3" r="1.2" fill="#1a80d0" opacity="0.40"/><circle cx="469.1" cy="93.8" r="1.2" fill="#1a80d0" opacity="0.59"/><circle cx="475.3" cy="94.9" r="1.1" fill="#1a80d0" opacity="0.47"/><circle cx="471.0" cy="95.5" r="0.7" fill="#1a80d0" opacity="0.60"/><circle cx="475.7" cy="93.7" r="0.7" fill="#1a80d0" opacity="0.58"/><circle cx="474.9" cy="94.8" r="0.8" fill="#0a3c98" opacity="0.36"/><circle cx="472.4" cy="91.7" r="0.7" fill="#1a80d0" opacity="0.56"/><circle cx="469.7" cy="93.4" r="0.9" fill="#0a3c98" opacity="0.41"/><circle cx="470.1" cy="93.1" r="0.7" fill="#0a3c98" opacity="0.53"/><circle cx="471.9" cy="94.7" r="0.7" fill="#18a8b0" opacity="0.44"/><ellipse cx="540.0" cy="98.5" rx="4" ry="8" fill="url(#gB)" transform="rotate(-5 540.0 98.5)"/><circle cx="540.0" cy="101.1" r="1.0" fill="#0a3c98" opacity="0.55"/><circle cx="538.8" cy="97.3" r="0.6" fill="#0a3c98" opacity="0.46"/><circle cx="539.8" cy="97.2" r="1.2" fill="#1a80d0" opacity="0.56"/><circle cx="541.1" cy="95.4" r="0.6" fill="#0a3c98" opacity="0.47"/><circle cx="540.8" cy="96.3" r="0.7" fill="#0a3c98" opacity="0.45"/><circle cx="541.2" cy="101.4" r="1.0" fill="#1a80d0" opacity="0.48"/><circle cx="538.2" cy="100.0" r="0.7" fill="#0a3c98" opacity="0.56"/><circle cx="540.9" cy="96.0" r="1.1" fill="#18a8b0" opacity="0.50"/><circle cx="542.7" cy="100.3" r="1.3" fill="#18a8b0" opacity="0.44"/><circle cx="537.9" cy="97.9" r="0.6" fill="#0a3c98" opacity="0.41"/><ellipse cx="563.0" cy="107.2" rx="5.5" ry="5.5" fill="url(#gB)" transform="rotate(0 563.0 107.2)"/><circle cx="563.5" cy="108.4" r="0.8" fill="#0a3c98" opacity="0.37"/><circle cx="565.7" cy="109.1" r="0.7" fill="#1a80d0" opacity="0.50"/><circle cx="560.5" cy="105.9" r="1.1" fill="#1a80d0" opacity="0.57"/><circle cx="562.8" cy="106.4" r="0.7" fill="#18a8b0" opacity="0.44"/><circle cx="562.7" cy="108.6" r="0.9" fill="#1a80d0" opacity="0.50"/><circle cx="564.0" cy="106.0" r="1.0" fill="#0a3c98" opacity="0.40"/><circle cx="564.8" cy="103.8" r="0.9" fill="#18a8b0" opacity="0.51"/><circle cx="560.5" cy="106.8" r="1.3" fill="#0a3c98" opacity="0.44"/><circle cx="563.1" cy="109.5" r="0.9" fill="#0a3c98" opacity="0.55"/><circle cx="566.1" cy="105.3" r="1.2" fill="#1a80d0" opacity="0.48"/><ellipse cx="464.5" cy="81.6" rx="2" ry="2.5" fill="url(#gD)" transform="rotate(0 464.5 81.6)"/><circle cx="465.8" cy="81.1" r="0.7" fill="#1a90b0" opacity="0.47"/><circle cx="463.8" cy="82.6" r="0.6" fill="#1a90b0" opacity="0.44"/><circle cx="465.0" cy="81.7" r="1.3" fill="#072a70" opacity="0.58"/><ellipse cx="476.5" cy="129.8" rx="5.5" ry="5" fill="url(#gB)" transform="rotate(0 476.5 129.8)"/><circle cx="474.1" cy="127.4" r="1.2" fill="#0a3c98" opacity="0.37"/><circle cx="475.2" cy="128.4" r="1.1" fill="#1a80d0" opacity="0.49"/><circle cx="479.3" cy="128.5" r="0.8" fill="#18a8b0" opacity="0.43"/><circle cx="478.5" cy="129.2" r="0.8" fill="#0a3c98" opacity="0.39"/><circle cx="473.3" cy="127.8" r="1.0" fill="#1a80d0" opacity="0.47"/><circle cx="475.0" cy="129.5" r="0.7" fill="#1a80d0" opacity="0.43"/><circle cx="474.7" cy="130.9" r="0.8" fill="#1a80d0" opacity="0.49"/><circle cx="478.2" cy="127.4" r="1.0" fill="#0a3c98" opacity="0.41"/><circle cx="475.8" cy="127.4" r="1.0" fill="#18a8b0" opacity="0.43"/><ellipse cx="495.6" cy="133.5" rx="5" ry="6" fill="url(#gD)" transform="rotate(-15 495.6 133.5)"/><circle cx="495.5" cy="135.6" r="0.7" fill="#1a90b0" opacity="0.41"/><circle cx="495.2" cy="133.4" r="0.8" fill="#072a70" opacity="0.42"/><circle cx="495.4" cy="131.8" r="0.6" fill="#072a70" opacity="0.47"/><circle cx="497.9" cy="134.0" r="0.9" fill="#072a70" opacity="0.39"/><circle cx="497.2" cy="137.4" r="1.1" fill="#1668c0" opacity="0.44"/><circle cx="494.6" cy="136.7" r="1.0" fill="#072a70" opacity="0.56"/><circle cx="492.5" cy="133.9" r="1.1" fill="#072a70" opacity="0.47"/><circle cx="495.3" cy="129.9" r="1.2" fill="#1668c0" opacity="0.57"/><circle cx="498.7" cy="132.8" r="1.0" fill="#1a90b0" opacity="0.54"/><circle cx="493.3" cy="132.9" r="1.1" fill="#072a70" opacity="0.51"/><ellipse cx="511.0" cy="136.0" rx="6.5" ry="5" fill="url(#gD)" transform="rotate(30 511.0 136.0)"/><circle cx="508.2" cy="136.3" r="0.9" fill="#072a70" opacity="0.43"/><circle cx="507.8" cy="136.1" r="0.8" fill="#1668c0" opacity="0.55"/><circle cx="513.7" cy="135.2" r="0.9" fill="#1668c0" opacity="0.43"/><circle cx="511.8" cy="139.0" r="1.0" fill="#1668c0" opacity="0.58"/><circle cx="506.8" cy="135.3" r="0.5" fill="#1668c0" opacity="0.50"/><circle cx="507.1" cy="133.8" r="1.1" fill="#1a90b0" opacity="0.55"/><circle cx="508.2" cy="134.1" r="1.0" fill="#1a90b0" opacity="0.41"/><circle cx="509.6" cy="133.8" r="1.3" fill="#072a70" opacity="0.49"/><circle cx="512.4" cy="138.3" r="0.8" fill="#1a90b0" opacity="0.46"/><circle cx="515.1" cy="135.6" r="0.9" fill="#1a90b0" opacity="0.47"/><ellipse cx="532.3" cy="148.0" rx="6" ry="3.5" fill="url(#gB)" transform="rotate(0 532.3 148.0)"/><circle cx="534.8" cy="148.0" r="1.0" fill="#0a3c98" opacity="0.40"/><circle cx="530.5" cy="150.3" r="1.2" fill="#18a8b0" opacity="0.35"/><circle cx="535.1" cy="146.7" r="1.2" fill="#0a3c98" opacity="0.57"/><circle cx="530.8" cy="148.5" r="0.8" fill="#18a8b0" opacity="0.44"/><circle cx="533.0" cy="149.0" r="1.0" fill="#18a8b0" opacity="0.41"/><circle cx="535.7" cy="147.9" r="0.6" fill="#18a8b0" opacity="0.50"/><circle cx="531.0" cy="150.0" r="0.6" fill="#1a80d0" opacity="0.56"/><ellipse cx="449.0" cy="131.0" rx="2" ry="4" fill="url(#gD)" transform="rotate(0 449.0 131.0)"/><circle cx="448.0" cy="129.8" r="0.7" fill="#1a90b0" opacity="0.45"/><circle cx="448.6" cy="131.5" r="0.6" fill="#072a70" opacity="0.39"/><circle cx="449.5" cy="131.7" r="0.9" fill="#072a70" opacity="0.51"/><ellipse cx="573.5" cy="141.0" rx="2.5" ry="5" fill="url(#gD)" transform="rotate(0 573.5 141.0)"/><circle cx="573.7" cy="140.2" r="0.5" fill="#072a70" opacity="0.44"/><circle cx="573.3" cy="138.9" r="0.6" fill="#1668c0" opacity="0.38"/><circle cx="574.6" cy="139.4" r="0.8" fill="#1a90b0" opacity="0.41"/><circle cx="572.8" cy="139.8" r="0.5" fill="#072a70" opacity="0.57"/></g><g filter="url(#dotblur)"><circle cx="493.0" cy="133.1" r="0.55" fill="#58f070" opacity="0.79"/><circle cx="507.9" cy="137.6" r="0.55" fill="#58f070" opacity="0.76"/><circle cx="448.9" cy="133.3" r="0.55" fill="#58f070" opacity="0.87"/><circle cx="575.1" cy="142.1" r="0.55" fill="#58f070" opacity="0.83"/></g></g><rect x="579.5" y="22.7" width="128.5" height="128.5" fill="#010104"/><g clip-path="url(#cp04)"><g filter="url(#soft0)"><ellipse cx="646.8" cy="49.3" rx="6.5" ry="7.5" fill="url(#gS)" transform="rotate(10 646.8 49.3)"/><circle cx="644.3" cy="53.6" r="1.2" fill="#18a0a0" opacity="0.50"/><circle cx="650.1" cy="48.9" r="1.3" fill="#18a0a0" opacity="0.45"/><circle cx="646.8" cy="46.8" r="0.8" fill="#0a3a98" opacity="0.48"/><circle cx="647.8" cy="46.9" r="0.7" fill="#18a0a0" opacity="0.40"/><circle cx="649.3" cy="49.2" r="1.0" fill="#28e040" opacity="0.65"/><circle cx="644.2" cy="51.1" r="0.6" fill="#28e040" opacity="0.74"/><circle cx="645.1" cy="51.2" r="0.7" fill="#18a0a0" opacity="0.42"/><circle cx="650.3" cy="50.9" r="0.8" fill="#18a0a0" opacity="0.53"/><circle cx="648.5" cy="51.2" r="1.2" fill="#28e040" opacity="0.62"/><circle cx="649.7" cy="45.6" r="0.7" fill="#18a0a0" opacity="0.53"/><circle cx="642.9" cy="52.4" r="0.7" fill="#0a3a98" opacity="0.48"/><circle cx="646.6" cy="52.9" r="0.7" fill="#1a78d0" opacity="0.42"/><circle cx="650.1" cy="47.4" r="0.9" fill="#18a0a0" opacity="0.51"/><circle cx="647.0" cy="54.3" r="0.7" fill="#1a78d0" opacity="0.49"/><circle cx="645.5" cy="53.8" r="0.9" fill="#1a78d0" opacity="0.50"/><ellipse cx="586.7" cy="63.5" rx="5.5" ry="8.5" fill="url(#gS)" transform="rotate(-5 586.7 63.5)"/><circle cx="586.1" cy="67.1" r="0.7" fill="#18a0a0" opacity="0.56"/><circle cx="585.7" cy="68.1" r="0.7" fill="#1a78d0" opacity="0.45"/><circle cx="584.5" cy="63.7" r="0.6" fill="#18a0a0" opacity="0.41"/><circle cx="589.4" cy="67.0" r="0.8" fill="#18a0a0" opacity="0.58"/><circle cx="586.8" cy="57.8" r="1.2" fill="#28e040" opacity="0.57"/><circle cx="590.0" cy="64.1" r="1.1" fill="#18a0a0" opacity="0.46"/><circle cx="584.5" cy="59.4" r="0.8" fill="#0a3a98" opacity="0.44"/><circle cx="585.4" cy="61.7" r="0.7" fill="#0a3a98" opacity="0.54"/><circle cx="586.4" cy="62.3" r="0.6" fill="#18a0a0" opacity="0.41"/><circle cx="586.2" cy="67.1" r="0.6" fill="#18a0a0" opacity="0.51"/><circle cx="588.7" cy="68.4" r="1.0" fill="#0a3a98" opacity="0.42"/><circle cx="583.9" cy="65.8" r="0.8" fill="#28e040" opacity="0.75"/><circle cx="586.8" cy="60.3" r="0.6" fill="#0a3a98" opacity="0.51"/><circle cx="588.6" cy="64.2" r="0.7" fill="#0a3a98" opacity="0.41"/><circle cx="589.4" cy="60.5" r="0.7" fill="#1a78d0" opacity="0.45"/><ellipse cx="612.2" cy="60.6" rx="6.5" ry="5.5" fill="url(#gB)" transform="rotate(35 612.2 60.6)"/><circle cx="614.2" cy="57.6" r="0.8" fill="#1a80d0" opacity="0.59"/><circle cx="607.9" cy="59.7" r="1.1" fill="#0a3c98" opacity="0.56"/><circle cx="611.5" cy="57.8" r="0.6" fill="#0a3c98" opacity="0.46"/><circle cx="608.7" cy="57.8" r="0.7" fill="#0a3c98" opacity="0.37"/><circle cx="613.1" cy="57.1" r="0.8" fill="#18a8b0" opacity="0.54"/><circle cx="611.6" cy="57.5" r="0.8" fill="#1a80d0" opacity="0.45"/><circle cx="610.2" cy="60.3" r="0.8" fill="#1a80d0" opacity="0.53"/><circle cx="612.3" cy="58.6" r="0.8" fill="#18a8b0" opacity="0.43"/><circle cx="614.8" cy="61.3" r="0.8" fill="#0a3c98" opacity="0.39"/><circle cx="610.7" cy="58.4" r="1.2" fill="#18a8b0" opacity="0.50"/><circle cx="612.1" cy="64.0" r="1.0" fill="#18a8b0" opacity="0.50"/><circle cx="613.5" cy="60.1" r="0.8" fill="#1a80d0" opacity="0.41"/><ellipse cx="631.0" cy="69.4" rx="4.6" ry="7" fill="url(#gB)" transform="rotate(-15 631.0 69.4)"/><circle cx="632.8" cy="69.9" r="0.7" fill="#0a3c98" opacity="0.47"/><circle cx="632.9" cy="70.8" r="0.9" fill="#1a80d0" opacity="0.40"/><circle cx="631.4" cy="69.5" r="1.3" fill="#0a3c98" opacity="0.38"/><circle cx="629.1" cy="64.9" r="1.0" fill="#1a80d0" opacity="0.48"/><circle cx="630.0" cy="70.6" r="1.0" fill="#1a80d0" opacity="0.58"/><circle cx="628.6" cy="66.8" r="1.3" fill="#0a3c98" opacity="0.42"/><circle cx="631.5" cy="71.2" r="0.6" fill="#0a3c98" opacity="0.56"/><circle cx="631.1" cy="71.5" r="1.0" fill="#0a3c98" opacity="0.58"/><circle cx="633.4" cy="72.8" r="1.2" fill="#0a3c98" opacity="0.44"/><circle cx="633.2" cy="73.1" r="0.8" fill="#1a80d0" opacity="0.49"/><circle cx="629.9" cy="73.2" r="0.8" fill="#1a80d0" opacity="0.50"/><ellipse cx="622.7" cy="85.0" rx="7" ry="4.5" fill="url(#gB)" transform="rotate(-15 622.7 85.0)"/><circle cx="619.1" cy="83.8" r="1.1" fill="#0a3c98" opacity="0.59"/><circle cx="619.3" cy="86.0" r="0.7" fill="#1a80d0" opacity="0.50"/><circle cx="626.6" cy="85.3" r="0.7" fill="#18a8b0" opacity="0.54"/><circle cx="623.6" cy="85.1" r="0.9" fill="#1a80d0" opacity="0.53"/><circle cx="627.2" cy="83.9" r="1.2" fill="#0a3c98" opacity="0.46"/><circle cx="622.5" cy="87.7" r="1.0" fill="#18a8b0" opacity="0.40"/><circle cx="619.3" cy="86.9" r="1.2" fill="#0a3c98" opacity="0.40"/><circle cx="622.3" cy="87.2" r="1.0" fill="#1a80d0" opacity="0.41"/><circle cx="625.3" cy="85.3" r="0.9" fill="#0a3c98" opacity="0.58"/><circle cx="625.3" cy="81.8" r="1.3" fill="#18a8b0" opacity="0.51"/><ellipse cx="673.5" cy="69.4" rx="6" ry="4.5" fill="url(#gB)" transform="rotate(20 673.5 69.4)"/><circle cx="676.3" cy="71.5" r="1.0" fill="#1a80d0" opacity="0.50"/><circle cx="676.4" cy="69.8" r="1.1" fill="#1a80d0" opacity="0.44"/><circle cx="674.1" cy="69.2" r="0.7" fill="#0a3c98" opacity="0.47"/><circle cx="675.9" cy="71.7" r="0.9" fill="#18a8b0" opacity="0.42"/><circle cx="670.7" cy="67.9" r="0.9" fill="#1a80d0" opacity="0.40"/><circle cx="676.3" cy="68.8" r="0.7" fill="#0a3c98" opacity="0.42"/><circle cx="675.5" cy="71.5" r="0.8" fill="#18a8b0" opacity="0.45"/><circle cx="673.1" cy="71.8" r="0.7" fill="#18a8b0" opacity="0.46"/><circle cx="675.4" cy="71.2" r="0.7" fill="#18a8b0" opacity="0.52"/><ellipse cx="677.5" cy="41.0" rx="4.5" ry="6.5" fill="url(#gD)" transform="rotate(0 677.5 41.0)"/><circle cx="674.9" cy="39.8" r="1.1" fill="#1668c0" opacity="0.60"/><circle cx="677.3" cy="39.5" r="1.2" fill="#1a90b0" opacity="0.37"/><circle cx="679.9" cy="40.1" r="1.1" fill="#1668c0" opacity="0.55"/><circle cx="679.0" cy="41.8" r="0.8" fill="#1668c0" opacity="0.50"/><circle cx="677.9" cy="43.5" r="1.1" fill="#1a90b0" opacity="0.53"/><circle cx="675.3" cy="38.0" r="1.0" fill="#072a70" opacity="0.57"/><circle cx="678.9" cy="44.5" r="0.8" fill="#072a70" opacity="0.52"/><circle cx="678.0" cy="39.5" r="0.8" fill="#072a70" opacity="0.59"/><circle cx="677.4" cy="40.0" r="1.0" fill="#1668c0" opacity="0.49"/><circle cx="677.9" cy="39.5" r="1.2" fill="#072a70" opacity="0.42"/><ellipse cx="657.7" cy="95.9" rx="6" ry="5.4" fill="url(#gB)" transform="rotate(-30 657.7 95.9)"/><circle cx="659.8" cy="97.5" r="1.2" fill="#18a8b0" opacity="0.35"/><circle cx="659.0" cy="95.3" r="1.2" fill="#1a80d0" opacity="0.49"/><circle cx="658.5" cy="99.0" r="0.9" fill="#1a80d0" opacity="0.57"/><circle cx="654.3" cy="97.0" r="1.2" fill="#0a3c98" opacity="0.36"/><circle cx="657.5" cy="97.5" r="1.0" fill="#0a3c98" opacity="0.55"/><circle cx="659.4" cy="95.3" r="1.2" fill="#0a3c98" opacity="0.45"/><circle cx="656.3" cy="97.0" r="1.2" fill="#18a8b0" opacity="0.52"/><circle cx="656.6" cy="95.8" r="0.8" fill="#1a80d0" opacity="0.57"/><circle cx="656.8" cy="95.9" r="0.7" fill="#1a80d0" opacity="0.47"/><circle cx="655.1" cy="96.1" r="0.8" fill="#1a80d0" opacity="0.50"/><circle cx="657.7" cy="96.5" r="0.9" fill="#0a3c98" opacity="0.37"/><ellipse cx="698.0" cy="96.7" rx="6.5" ry="5" fill="url(#gB)" transform="rotate(30 698.0 96.7)"/><circle cx="698.9" cy="99.9" r="0.8" fill="#1a80d0" opacity="0.48"/><circle cx="696.4" cy="98.9" r="1.0" fill="#0a3c98" opacity="0.60"/><circle cx="700.7" cy="98.9" r="1.1" fill="#0a3c98" opacity="0.55"/><circle cx="696.9" cy="93.6" r="0.9" fill="#1a80d0" opacity="0.55"/><circle cx="702.0" cy="96.1" r="1.1" fill="#1a80d0" opacity="0.54"/><circle cx="699.1" cy="94.4" r="1.0" fill="#1a80d0" opacity="0.49"/><circle cx="696.9" cy="96.6" r="0.8" fill="#1a80d0" opacity="0.60"/><circle cx="695.4" cy="95.5" r="0.8" fill="#1a80d0" opacity="0.44"/><circle cx="698.1" cy="97.0" r="1.2" fill="#18a8b0" opacity="0.43"/><circle cx="696.4" cy="94.8" r="0.7" fill="#1a80d0" opacity="0.43"/><circle cx="695.3" cy="98.5" r="1.0" fill="#0a3c98" opacity="0.44"/><ellipse cx="682.2" cy="122.6" rx="5" ry="6.6" fill="url(#gB)" transform="rotate(-5 682.2 122.6)"/><circle cx="684.5" cy="120.7" r="0.7" fill="#1a80d0" opacity="0.50"/><circle cx="684.3" cy="122.2" r="1.1" fill="#18a8b0" opacity="0.52"/><circle cx="684.6" cy="123.8" r="1.2" fill="#1a80d0" opacity="0.42"/><circle cx="683.7" cy="122.8" r="0.8" fill="#0a3c98" opacity="0.41"/><circle cx="681.0" cy="124.0" r="1.0" fill="#0a3c98" opacity="0.52"/><circle cx="683.5" cy="126.3" r="1.3" fill="#18a8b0" opacity="0.35"/><circle cx="683.1" cy="118.4" r="0.8" fill="#1a80d0" opacity="0.41"/><circle cx="678.8" cy="121.9" r="1.0" fill="#0a3c98" opacity="0.41"/><circle cx="681.1" cy="126.4" r="1.1" fill="#18a8b0" opacity="0.48"/><circle cx="681.8" cy="123.6" r="0.9" fill="#1a80d0" opacity="0.51"/><circle cx="681.2" cy="125.6" r="1.0" fill="#1a80d0" opacity="0.47"/><ellipse cx="598.2" cy="131.3" rx="6.5" ry="5" fill="url(#gB)" transform="rotate(0 598.2 131.3)"/><circle cx="602.7" cy="131.6" r="1.0" fill="#0a3c98" opacity="0.37"/><circle cx="595.2" cy="129.3" r="0.8" fill="#1a80d0" opacity="0.40"/><circle cx="600.8" cy="133.8" r="0.7" fill="#0a3c98" opacity="0.46"/><circle cx="594.7" cy="130.6" r="1.0" fill="#0a3c98" opacity="0.50"/><circle cx="596.2" cy="134.0" r="0.8" fill="#0a3c98" opacity="0.54"/><circle cx="598.6" cy="129.3" r="1.1" fill="#0a3c98" opacity="0.47"/><circle cx="597.6" cy="133.9" r="1.3" fill="#1a80d0" opacity="0.36"/><circle cx="594.5" cy="131.7" r="1.1" fill="#1a80d0" opacity="0.60"/><circle cx="598.8" cy="134.4" r="0.7" fill="#1a80d0" opacity="0.39"/><circle cx="601.3" cy="132.2" r="1.0" fill="#1a80d0" opacity="0.59"/><circle cx="597.0" cy="132.3" r="0.7" fill="#0a3c98" opacity="0.58"/><ellipse cx="634.1" cy="134.6" rx="7" ry="6.5" fill="url(#gB)" transform="rotate(20 634.1 134.6)"/><circle cx="634.3" cy="135.4" r="1.1" fill="#1a80d0" opacity="0.60"/><circle cx="630.3" cy="133.2" r="0.8" fill="#0a3c98" opacity="0.47"/><circle cx="630.7" cy="137.6" r="0.7" fill="#0a3c98" opacity="0.38"/><circle cx="633.1" cy="131.7" r="1.2" fill="#1a80d0" opacity="0.50"/><circle cx="629.4" cy="135.5" r="1.3" fill="#0a3c98" opacity="0.41"/><circle cx="633.3" cy="136.8" r="0.9" fill="#1a80d0" opacity="0.41"/><circle cx="635.6" cy="131.2" r="0.8" fill="#0a3c98" opacity="0.41"/><circle cx="632.7" cy="133.2" r="1.2" fill="#0a3c98" opacity="0.42"/><circle cx="635.6" cy="130.6" r="0.8" fill="#1a80d0" opacity="0.48"/><circle cx="636.0" cy="134.0" r="1.1" fill="#18a8b0" opacity="0.43"/><circle cx="630.9" cy="131.2" r="0.7" fill="#0a3c98" opacity="0.45"/><circle cx="636.4" cy="130.9" r="0.7" fill="#0a3c98" opacity="0.60"/><circle cx="633.6" cy="135.2" r="0.7" fill="#0a3c98" opacity="0.36"/><circle cx="636.0" cy="134.3" r="1.1" fill="#1a80d0" opacity="0.40"/><ellipse cx="662.0" cy="140.0" rx="4.6" ry="7" fill="url(#gB)" transform="rotate(-5 662.0 140.0)"/><circle cx="661.5" cy="138.7" r="0.8" fill="#0a3c98" opacity="0.53"/><circle cx="664.1" cy="136.4" r="0.6" fill="#1a80d0" opacity="0.55"/><circle cx="661.7" cy="139.1" r="1.0" fill="#1a80d0" opacity="0.46"/><circle cx="662.4" cy="140.4" r="1.3" fill="#1a80d0" opacity="0.57"/><circle cx="663.9" cy="142.3" r="0.7" fill="#18a8b0" opacity="0.37"/><circle cx="661.3" cy="138.3" r="1.1" fill="#18a8b0" opacity="0.35"/><circle cx="660.8" cy="142.9" r="1.2" fill="#1a80d0" opacity="0.41"/><circle cx="665.0" cy="138.8" r="1.1" fill="#1a80d0" opacity="0.40"/><circle cx="662.0" cy="141.3" r="0.6" fill="#18a8b0" opacity="0.42"/><circle cx="660.0" cy="139.1" r="0.6" fill="#0a3c98" opacity="0.52"/><circle cx="659.6" cy="139.2" r="1.1" fill="#0a3c98" opacity="0.57"/><ellipse cx="706.0" cy="63.0" rx="2" ry="5" fill="url(#gD)" transform="rotate(0 706.0 63.0)"/><circle cx="705.8" cy="60.8" r="0.8" fill="#1a90b0" opacity="0.54"/><circle cx="705.3" cy="64.5" r="0.8" fill="#1668c0" opacity="0.60"/><circle cx="707.1" cy="63.1" r="1.2" fill="#1668c0" opacity="0.51"/><circle cx="705.5" cy="64.2" r="0.7" fill="#1668c0" opacity="0.56"/><circle cx="706.3" cy="59.6" r="0.5" fill="#072a70" opacity="0.44"/></g></g><rect x="707" y="22.7" width="1" height="128.5" fill="#3a3a3a"/><rect x="678.9" y="25.3" width="26" height="47.4" fill="#fff" stroke="#222" stroke-width="0.9"/><rect x="682.5" y="28.6" width="3.8" height="41.2" fill="url(#cbar)" stroke="#8a8a8a" stroke-width="0.7"/><text x="687.8" y="30.6" font-size="4.8" fill="#1a1a1a" font-family="Liberation Sans, sans-serif">62140</text><text x="687.8" y="40.9" font-size="4.8" fill="#1a1a1a" font-family="Liberation Sans, sans-serif">46793</text><text x="687.8" y="51.1" font-size="4.8" fill="#1a1a1a" font-family="Liberation Sans, sans-serif">31445</text><text x="687.8" y="61.4" font-size="4.8" fill="#1a1a1a" font-family="Liberation Sans, sans-serif">16098</text><text x="687.8" y="71.6" font-size="4.8" fill="#1a1a1a" font-family="Liberation Sans, sans-serif">750</text><rect x="680" y="142" width="25.3" height="1.5" fill="#e8e8e8"/><text x="692.6" y="148.6" font-size="4.8" fill="#e8e8e8" text-anchor="middle" font-family="Liberation Sans, sans-serif">25 µm</text><rect x="52" y="155" width="128" height="128.2" fill="#010104"/><g clip-path="url(#cp10)"><g filter="url(#soft1)"><ellipse cx="103.9" cy="202.7" rx="8" ry="5.6" fill="url(#gT)" transform="rotate(-50 103.9 202.7)"/><circle cx="100.4" cy="203.2" r="1.1" fill="#0c48b0" opacity="0.36"/><circle cx="101.0" cy="200.4" r="1.2" fill="#18b890" opacity="0.70"/><circle cx="106.6" cy="204.4" r="1.4" fill="#18b890" opacity="0.62"/><circle cx="103.2" cy="206.4" r="1.3" fill="#18b890" opacity="0.51"/><circle cx="100.4" cy="203.6" r="1.0" fill="#18b890" opacity="0.49"/><circle cx="104.9" cy="199.2" r="1.4" fill="#18b890" opacity="0.55"/><circle cx="105.3" cy="203.4" r="1.5" fill="#18b890" opacity="0.57"/><circle cx="100.1" cy="206.2" r="1.0" fill="#30e040" opacity="0.79"/><circle cx="101.6" cy="206.6" r="1.5" fill="#0c48b0" opacity="0.57"/><circle cx="106.6" cy="200.5" r="1.5" fill="#0c48b0" opacity="0.39"/><circle cx="106.2" cy="202.5" r="0.9" fill="#30e040" opacity="0.78"/><circle cx="101.2" cy="205.4" r="0.9" fill="#18b890" opacity="0.70"/><ellipse cx="137.3" cy="202.7" rx="6.6" ry="5.6" fill="url(#gS)" transform="rotate(0 137.3 202.7)"/><circle cx="136.2" cy="200.2" r="0.9" fill="#0a3a98" opacity="0.54"/><circle cx="139.6" cy="205.4" r="0.9" fill="#1a78d0" opacity="0.42"/><circle cx="135.4" cy="204.4" r="0.9" fill="#28e040" opacity="0.54"/><circle cx="136.3" cy="202.3" r="0.7" fill="#0a3a98" opacity="0.43"/><circle cx="136.3" cy="204.5" r="1.2" fill="#28e040" opacity="0.68"/><circle cx="138.6" cy="201.3" r="0.9" fill="#0a3a98" opacity="0.51"/><circle cx="136.6" cy="203.3" r="0.9" fill="#18a0a0" opacity="0.53"/><circle cx="136.4" cy="205.2" r="1.1" fill="#0a3a98" opacity="0.44"/><circle cx="134.6" cy="204.7" r="1.2" fill="#18a0a0" opacity="0.59"/><circle cx="136.6" cy="200.3" r="1.1" fill="#18a0a0" opacity="0.38"/><circle cx="137.4" cy="200.2" r="1.0" fill="#1a78d0" opacity="0.58"/><circle cx="137.3" cy="202.1" r="1.0" fill="#1a78d0" opacity="0.47"/><ellipse cx="161.4" cy="215.8" rx="6.6" ry="5.6" fill="url(#gB)" transform="rotate(-35 161.4 215.8)"/><circle cx="161.5" cy="213.1" r="0.9" fill="#0a3c98" opacity="0.47"/><circle cx="158.7" cy="217.9" r="1.2" fill="#0a3c98" opacity="0.54"/><circle cx="161.0" cy="216.6" r="1.1" fill="#18a8b0" opacity="0.50"/><circle cx="160.8" cy="214.6" r="0.8" fill="#1a80d0" opacity="0.56"/><circle cx="162.7" cy="215.7" r="1.1" fill="#18a8b0" opacity="0.34"/><circle cx="158.3" cy="214.2" r="0.9" fill="#1a80d0" opacity="0.53"/><circle cx="159.7" cy="218.9" r="1.3" fill="#0a3c98" opacity="0.57"/><circle cx="163.8" cy="216.4" r="1.0" fill="#1a80d0" opacity="0.60"/><circle cx="162.3" cy="217.7" r="0.8" fill="#1a80d0" opacity="0.57"/><circle cx="158.2" cy="216.8" r="0.9" fill="#1a80d0" opacity="0.43"/><circle cx="162.2" cy="212.0" r="1.2" fill="#1a80d0" opacity="0.41"/><circle cx="164.6" cy="214.7" r="0.9" fill="#18a8b0" opacity="0.44"/><ellipse cx="65.1" cy="228.3" rx="8" ry="4.6" fill="url(#gT)" transform="rotate(25 65.1 228.3)"/><circle cx="62.8" cy="226.1" r="1.4" fill="#30e040" opacity="0.82"/><circle cx="64.1" cy="227.5" r="1.1" fill="#18b890" opacity="0.53"/><circle cx="62.7" cy="226.4" r="1.0" fill="#0c48b0" opacity="0.43"/><circle cx="65.2" cy="225.2" r="1.3" fill="#18b890" opacity="0.68"/><circle cx="60.1" cy="227.1" r="0.8" fill="#18b890" opacity="0.60"/><circle cx="69.3" cy="231.3" r="0.9" fill="#18b890" opacity="0.47"/><circle cx="69.0" cy="228.9" r="1.4" fill="#18b890" opacity="0.61"/><circle cx="64.5" cy="226.2" r="1.0" fill="#0c48b0" opacity="0.39"/><circle cx="67.5" cy="228.6" r="0.9" fill="#30e040" opacity="0.78"/><circle cx="68.6" cy="229.2" r="1.3" fill="#30e040" opacity="0.82"/><ellipse cx="120.5" cy="248.7" rx="5.6" ry="7" fill="url(#gS)" transform="rotate(-10 120.5 248.7)"/><circle cx="119.6" cy="247.0" r="0.6" fill="#1a78d0" opacity="0.37"/><circle cx="121.2" cy="246.2" r="0.8" fill="#1a78d0" opacity="0.44"/><circle cx="118.9" cy="248.2" r="1.2" fill="#18a0a0" opacity="0.56"/><circle cx="123.2" cy="252.0" r="1.3" fill="#18a0a0" opacity="0.37"/><circle cx="118.7" cy="251.8" r="0.8" fill="#1a78d0" opacity="0.38"/><circle cx="117.4" cy="250.2" r="0.9" fill="#1a78d0" opacity="0.39"/><circle cx="120.9" cy="247.1" r="1.2" fill="#0a3a98" opacity="0.59"/><circle cx="118.3" cy="248.6" r="0.8" fill="#0a3a98" opacity="0.48"/><circle cx="121.5" cy="247.9" r="0.9" fill="#0a3a98" opacity="0.50"/><circle cx="119.3" cy="248.5" r="0.7" fill="#18a0a0" opacity="0.57"/><circle cx="121.2" cy="246.6" r="1.2" fill="#28e040" opacity="0.67"/><circle cx="122.7" cy="247.7" r="1.3" fill="#1a78d0" opacity="0.37"/><ellipse cx="160.8" cy="249.0" rx="6.6" ry="5" fill="url(#gB)" transform="rotate(0 160.8 249.0)"/><circle cx="159.2" cy="251.1" r="0.8" fill="#0a3c98" opacity="0.40"/><circle cx="161.4" cy="247.1" r="0.6" fill="#18a8b0" opacity="0.35"/><circle cx="156.8" cy="248.0" r="1.0" fill="#18a8b0" opacity="0.34"/><circle cx="159.3" cy="248.9" r="1.1" fill="#1a80d0" opacity="0.50"/><circle cx="159.0" cy="250.8" r="1.1" fill="#1a80d0" opacity="0.40"/><circle cx="163.4" cy="248.3" r="1.2" fill="#0a3c98" opacity="0.48"/><circle cx="161.7" cy="249.9" r="1.2" fill="#1a80d0" opacity="0.48"/><circle cx="159.2" cy="248.7" r="0.9" fill="#1a80d0" opacity="0.49"/><circle cx="157.9" cy="248.9" r="0.7" fill="#18a8b0" opacity="0.37"/><circle cx="162.4" cy="250.3" r="1.2" fill="#18a8b0" opacity="0.53"/><circle cx="165.4" cy="249.3" r="0.9" fill="#0a3c98" opacity="0.50"/><ellipse cx="106.3" cy="215.8" rx="3" ry="2.5" fill="url(#gW)" transform="rotate(0 106.3 215.8)"/><circle cx="105.9" cy="215.0" r="1.1" fill="#0e4488" opacity="0.35"/><circle cx="107.6" cy="216.0" r="0.9" fill="#0e4488" opacity="0.48"/><circle cx="107.7" cy="216.5" r="0.7" fill="#051840" opacity="0.55"/></g></g><rect x="183.5" y="155" width="128.5" height="128.2" fill="#010104"/><g clip-path="url(#cp11)"><g filter="url(#soft1)"><ellipse cx="245.4" cy="178.0" rx="4.5" ry="7" fill="url(#gD)" transform="rotate(-5 245.4 178.0)"/><circle cx="245.1" cy="176.8" r="0.7" fill="#072a70" opacity="0.60"/><circle cx="247.9" cy="178.8" r="1.1" fill="#072a70" opacity="0.44"/><circle cx="245.9" cy="174.8" r="1.2" fill="#1668c0" opacity="0.59"/><circle cx="243.8" cy="179.8" r="0.6" fill="#1668c0" opacity="0.54"/><circle cx="244.7" cy="176.3" r="0.8" fill="#1668c0" opacity="0.41"/><circle cx="243.2" cy="178.6" r="1.1" fill="#072a70" opacity="0.54"/><circle cx="244.3" cy="176.4" r="1.0" fill="#072a70" opacity="0.55"/><circle cx="247.9" cy="180.1" r="0.8" fill="#1668c0" opacity="0.59"/><circle cx="243.8" cy="174.3" r="0.6" fill="#072a70" opacity="0.58"/><circle cx="247.5" cy="175.4" r="1.2" fill="#072a70" opacity="0.50"/><ellipse cx="256.7" cy="186.7" rx="4" ry="6.6" fill="url(#gD)" transform="rotate(15 256.7 186.7)"/><circle cx="253.9" cy="187.7" r="1.1" fill="#072a70" opacity="0.43"/><circle cx="258.9" cy="186.4" r="1.3" fill="#1668c0" opacity="0.59"/><circle cx="257.6" cy="184.5" r="1.2" fill="#1668c0" opacity="0.41"/><circle cx="255.2" cy="186.9" r="0.9" fill="#072a70" opacity="0.52"/><circle cx="257.0" cy="183.8" r="1.1" fill="#072a70" opacity="0.52"/><circle cx="259.5" cy="185.8" r="0.8" fill="#1668c0" opacity="0.52"/><circle cx="258.2" cy="184.6" r="1.0" fill="#072a70" opacity="0.55"/><circle cx="258.6" cy="187.3" r="0.5" fill="#1668c0" opacity="0.55"/><circle cx="254.3" cy="187.9" r="0.9" fill="#1668c0" opacity="0.41"/><ellipse cx="298.5" cy="165.5" rx="6" ry="6.6" fill="url(#gD)" transform="rotate(30 298.5 165.5)"/><circle cx="294.7" cy="167.3" r="1.0" fill="#1668c0" opacity="0.38"/><circle cx="296.1" cy="168.7" r="0.9" fill="#072a70" opacity="0.55"/><circle cx="299.4" cy="169.1" r="0.5" fill="#072a70" opacity="0.40"/><circle cx="295.7" cy="169.2" r="0.8" fill="#1668c0" opacity="0.57"/><circle cx="297.2" cy="161.4" r="0.8" fill="#1a90b0" opacity="0.54"/><circle cx="294.9" cy="163.2" r="0.7" fill="#072a70" opacity="0.40"/><circle cx="298.4" cy="165.4" r="0.6" fill="#072a70" opacity="0.47"/><circle cx="300.3" cy="164.0" r="0.8" fill="#1668c0" opacity="0.49"/><circle cx="301.5" cy="164.3" r="0.8" fill="#072a70" opacity="0.57"/><circle cx="298.5" cy="164.2" r="1.0" fill="#1a90b0" opacity="0.54"/><circle cx="295.1" cy="166.9" r="1.0" fill="#1a90b0" opacity="0.44"/><circle cx="298.9" cy="161.1" r="0.9" fill="#1a90b0" opacity="0.54"/><circle cx="300.9" cy="168.7" r="1.0" fill="#1a90b0" opacity="0.43"/><ellipse cx="306.6" cy="174.7" rx="4.5" ry="6.6" fill="url(#gD)" transform="rotate(0 306.6 174.7)"/><circle cx="306.6" cy="170.2" r="1.1" fill="#072a70" opacity="0.37"/><circle cx="306.1" cy="176.3" r="1.3" fill="#072a70" opacity="0.39"/><circle cx="304.5" cy="172.8" r="0.5" fill="#1a90b0" opacity="0.49"/><circle cx="305.5" cy="172.7" r="1.1" fill="#1668c0" opacity="0.49"/><circle cx="303.8" cy="176.9" r="1.0" fill="#072a70" opacity="0.52"/><circle cx="304.3" cy="177.9" r="1.1" fill="#072a70" opacity="0.43"/><circle cx="307.9" cy="177.8" r="1.2" fill="#072a70" opacity="0.44"/><circle cx="308.1" cy="177.3" r="1.2" fill="#1668c0" opacity="0.54"/><circle cx="307.5" cy="177.0" r="0.5" fill="#1668c0" opacity="0.45"/><circle cx="309.7" cy="173.7" r="0.6" fill="#1668c0" opacity="0.59"/><ellipse cx="195.0" cy="195.5" rx="4.6" ry="6.6" fill="url(#gD)" transform="rotate(0 195.0 195.5)"/><circle cx="195.6" cy="198.0" r="0.9" fill="#1668c0" opacity="0.42"/><circle cx="193.4" cy="197.3" r="1.3" fill="#1668c0" opacity="0.41"/><circle cx="196.9" cy="193.8" r="1.2" fill="#072a70" opacity="0.55"/><circle cx="194.5" cy="197.2" r="1.1" fill="#1a90b0" opacity="0.45"/><circle cx="193.6" cy="191.9" r="0.7" fill="#1a90b0" opacity="0.53"/><circle cx="193.3" cy="195.0" r="1.0" fill="#1668c0" opacity="0.55"/><circle cx="197.9" cy="196.6" r="1.0" fill="#1668c0" opacity="0.59"/><circle cx="194.8" cy="197.8" r="0.6" fill="#1a90b0" opacity="0.50"/><circle cx="194.1" cy="192.8" r="1.1" fill="#1668c0" opacity="0.43"/><circle cx="193.0" cy="191.8" r="1.0" fill="#072a70" opacity="0.55"/><circle cx="192.5" cy="198.3" r="1.1" fill="#1668c0" opacity="0.45"/><ellipse cx="224.6" cy="202.0" rx="5.5" ry="7.6" fill="url(#gD)" transform="rotate(20 224.6 202.0)"/><circle cx="226.4" cy="199.4" r="0.6" fill="#072a70" opacity="0.49"/><circle cx="221.8" cy="200.3" r="1.2" fill="#1668c0" opacity="0.44"/><circle cx="226.3" cy="204.1" r="0.9" fill="#072a70" opacity="0.52"/><circle cx="223.1" cy="199.7" r="1.0" fill="#1668c0" opacity="0.56"/><circle cx="227.1" cy="197.7" r="0.6" fill="#072a70" opacity="0.54"/><circle cx="221.1" cy="200.7" r="1.2" fill="#072a70" opacity="0.56"/><circle cx="223.9" cy="197.4" r="0.6" fill="#072a70" opacity="0.53"/><circle cx="223.8" cy="199.7" r="0.6" fill="#072a70" opacity="0.56"/><circle cx="223.5" cy="204.3" r="0.7" fill="#1668c0" opacity="0.52"/><circle cx="228.2" cy="202.5" r="0.8" fill="#072a70" opacity="0.38"/><circle cx="226.6" cy="199.9" r="0.5" fill="#072a70" opacity="0.39"/><circle cx="224.0" cy="203.2" r="0.9" fill="#1a90b0" opacity="0.51"/><circle cx="227.5" cy="204.3" r="0.6" fill="#1668c0" opacity="0.51"/><circle cx="222.5" cy="204.1" r="1.0" fill="#1668c0" opacity="0.55"/><ellipse cx="273.2" cy="196.0" rx="5" ry="6" fill="url(#gD)" transform="rotate(30 273.2 196.0)"/><circle cx="272.0" cy="199.7" r="1.1" fill="#1a90b0" opacity="0.34"/><circle cx="273.7" cy="195.4" r="0.9" fill="#1a90b0" opacity="0.34"/><circle cx="272.7" cy="192.6" r="1.0" fill="#1a90b0" opacity="0.44"/><circle cx="275.2" cy="196.5" r="1.3" fill="#1668c0" opacity="0.47"/><circle cx="273.5" cy="198.7" r="1.0" fill="#072a70" opacity="0.47"/><circle cx="271.7" cy="196.9" r="0.8" fill="#1668c0" opacity="0.41"/><circle cx="274.5" cy="193.2" r="0.9" fill="#1668c0" opacity="0.53"/><circle cx="272.7" cy="198.1" r="0.9" fill="#072a70" opacity="0.59"/><circle cx="275.3" cy="192.3" r="1.2" fill="#072a70" opacity="0.53"/><circle cx="274.1" cy="197.4" r="0.5" fill="#072a70" opacity="0.53"/><ellipse cx="282.0" cy="210.0" rx="6.6" ry="5" fill="url(#gD)" transform="rotate(-20 282.0 210.0)"/><circle cx="280.0" cy="209.3" r="0.8" fill="#1668c0" opacity="0.51"/><circle cx="284.4" cy="209.0" r="0.5" fill="#1668c0" opacity="0.45"/><circle cx="284.6" cy="207.0" r="0.9" fill="#1668c0" opacity="0.39"/><circle cx="282.0" cy="207.4" r="1.2" fill="#1668c0" opacity="0.39"/><circle cx="278.7" cy="210.1" r="0.7" fill="#1668c0" opacity="0.37"/><circle cx="280.9" cy="208.0" r="1.1" fill="#072a70" opacity="0.39"/><circle cx="284.1" cy="209.4" r="1.0" fill="#1a90b0" opacity="0.33"/><circle cx="283.0" cy="206.7" r="0.9" fill="#1668c0" opacity="0.57"/><circle cx="280.8" cy="210.2" r="0.8" fill="#072a70" opacity="0.57"/><ellipse cx="250.2" cy="247.6" rx="4.6" ry="6" fill="url(#gD)" transform="rotate(0 250.2 247.6)"/><circle cx="247.6" cy="247.9" r="0.7" fill="#1668c0" opacity="0.58"/><circle cx="249.4" cy="248.5" r="1.0" fill="#1668c0" opacity="0.41"/><circle cx="247.8" cy="248.5" r="1.0" fill="#072a70" opacity="0.47"/><circle cx="252.8" cy="249.1" r="0.5" fill="#1a90b0" opacity="0.42"/><circle cx="248.9" cy="244.4" r="0.7" fill="#072a70" opacity="0.53"/><circle cx="249.0" cy="247.9" r="1.2" fill="#072a70" opacity="0.38"/><circle cx="250.4" cy="251.9" r="0.7" fill="#1a90b0" opacity="0.50"/><circle cx="251.4" cy="244.5" r="1.1" fill="#1668c0" opacity="0.38"/><circle cx="253.1" cy="247.0" r="0.5" fill="#1668c0" opacity="0.42"/><circle cx="251.6" cy="246.7" r="1.0" fill="#072a70" opacity="0.51"/><ellipse cx="280.0" cy="260.7" rx="6.6" ry="5" fill="url(#gD)" transform="rotate(-25 280.0 260.7)"/><circle cx="281.6" cy="259.0" r="0.6" fill="#1668c0" opacity="0.54"/><circle cx="284.3" cy="261.1" r="1.1" fill="#1668c0" opacity="0.55"/><circle cx="282.5" cy="261.9" r="0.6" fill="#072a70" opacity="0.57"/><circle cx="280.1" cy="260.5" r="1.2" fill="#1a90b0" opacity="0.51"/><circle cx="276.6" cy="262.2" r="1.0" fill="#072a70" opacity="0.38"/><circle cx="283.4" cy="260.1" r="0.7" fill="#1a90b0" opacity="0.33"/><circle cx="279.7" cy="260.2" r="1.2" fill="#072a70" opacity="0.47"/><circle cx="283.4" cy="261.4" r="0.7" fill="#1a90b0" opacity="0.35"/><circle cx="283.0" cy="258.9" r="0.8" fill="#1668c0" opacity="0.54"/><circle cx="281.2" cy="257.2" r="0.6" fill="#1a90b0" opacity="0.40"/><ellipse cx="199.8" cy="265.0" rx="6.6" ry="5.6" fill="url(#gD)" transform="rotate(-30 199.8 265.0)"/><circle cx="201.0" cy="264.4" r="0.6" fill="#072a70" opacity="0.50"/><circle cx="196.9" cy="266.3" r="0.8" fill="#072a70" opacity="0.52"/><circle cx="202.0" cy="261.7" r="1.1" fill="#072a70" opacity="0.56"/><circle cx="199.3" cy="264.5" r="1.0" fill="#072a70" opacity="0.46"/><circle cx="200.5" cy="263.2" r="1.3" fill="#1a90b0" opacity="0.49"/><circle cx="200.9" cy="266.9" r="0.8" fill="#1668c0" opacity="0.38"/><circle cx="196.7" cy="268.4" r="1.0" fill="#072a70" opacity="0.54"/><circle cx="200.2" cy="260.8" r="1.1" fill="#1668c0" opacity="0.42"/><circle cx="199.4" cy="265.6" r="0.7" fill="#072a70" opacity="0.58"/><circle cx="199.6" cy="268.7" r="1.1" fill="#072a70" opacity="0.55"/><circle cx="198.4" cy="265.5" r="1.2" fill="#1668c0" opacity="0.51"/><circle cx="198.9" cy="268.1" r="1.3" fill="#1668c0" opacity="0.49"/><circle cx="196.8" cy="264.0" r="1.3" fill="#1a90b0" opacity="0.53"/><ellipse cx="220.6" cy="273.2" rx="6.6" ry="5" fill="url(#gD)" transform="rotate(0 220.6 273.2)"/><circle cx="218.9" cy="269.9" r="0.6" fill="#1668c0" opacity="0.43"/><circle cx="221.1" cy="273.0" r="0.7" fill="#072a70" opacity="0.60"/><circle cx="222.0" cy="275.3" r="1.0" fill="#072a70" opacity="0.54"/><circle cx="220.6" cy="271.4" r="0.7" fill="#1668c0" opacity="0.53"/><circle cx="221.2" cy="275.0" r="1.3" fill="#072a70" opacity="0.50"/><circle cx="218.6" cy="270.9" r="1.1" fill="#1668c0" opacity="0.38"/><circle cx="221.1" cy="273.4" r="0.8" fill="#1668c0" opacity="0.39"/><circle cx="215.9" cy="273.3" r="1.1" fill="#1668c0" opacity="0.54"/><circle cx="221.3" cy="274.2" r="0.7" fill="#1a90b0" opacity="0.48"/><circle cx="216.8" cy="274.2" r="0.6" fill="#072a70" opacity="0.44"/><circle cx="221.0" cy="272.7" r="1.2" fill="#1668c0" opacity="0.57"/></g><g filter="url(#dotblur)"><circle cx="246.0" cy="180.8" r="0.55" fill="#58f070" opacity="0.94"/><circle cx="272.5" cy="194.3" r="0.55" fill="#58f070" opacity="0.94"/><circle cx="285.1" cy="211.6" r="0.55" fill="#58f070" opacity="0.97"/><circle cx="284.6" cy="207.3" r="0.55" fill="#58f070" opacity="0.83"/><circle cx="279.5" cy="259.4" r="0.55" fill="#58f070" opacity="0.93"/></g></g><rect x="315.5" y="155" width="128.5" height="128.2" fill="#010104"/><g clip-path="url(#cp12)"><g filter="url(#soft1)"><ellipse cx="367.0" cy="172.5" rx="5.6" ry="7" fill="url(#gE)" transform="rotate(0 367.0 172.5)"/><circle cx="368.1" cy="168.6" r="0.7" fill="#1870c0" opacity="0.41"/><circle cx="368.3" cy="171.4" r="1.0" fill="#072a70" opacity="0.52"/><circle cx="365.2" cy="169.4" r="0.7" fill="#1870c0" opacity="0.36"/><circle cx="367.9" cy="171.0" r="1.3" fill="#1a98b0" opacity="0.49"/><circle cx="369.3" cy="175.9" r="0.7" fill="#1a98b0" opacity="0.45"/><circle cx="368.5" cy="174.1" r="1.1" fill="#1870c0" opacity="0.45"/><circle cx="367.2" cy="170.1" r="0.7" fill="#1870c0" opacity="0.45"/><circle cx="364.9" cy="175.5" r="0.9" fill="#072a70" opacity="0.37"/><circle cx="365.1" cy="168.6" r="0.7" fill="#1870c0" opacity="0.47"/><circle cx="369.0" cy="174.8" r="1.1" fill="#1870c0" opacity="0.39"/><circle cx="365.3" cy="172.8" r="0.7" fill="#1a98b0" opacity="0.36"/><ellipse cx="426.6" cy="189.0" rx="7.5" ry="6.6" fill="url(#gE)" transform="rotate(0 426.6 189.0)"/><circle cx="428.9" cy="190.0" r="1.1" fill="#1a98b0" opacity="0.52"/><circle cx="426.7" cy="191.0" r="1.2" fill="#1870c0" opacity="0.38"/><circle cx="426.1" cy="193.5" r="0.9" fill="#072a70" opacity="0.38"/><circle cx="423.7" cy="189.8" r="0.7" fill="#072a70" opacity="0.45"/><circle cx="430.5" cy="192.2" r="0.9" fill="#1870c0" opacity="0.36"/><circle cx="424.4" cy="186.2" r="0.5" fill="#1a98b0" opacity="0.49"/><circle cx="424.1" cy="188.5" r="0.9" fill="#072a70" opacity="0.52"/><circle cx="429.6" cy="192.4" r="1.3" fill="#072a70" opacity="0.57"/><circle cx="423.1" cy="192.3" r="0.6" fill="#1870c0" opacity="0.50"/><circle cx="427.9" cy="188.2" r="0.7" fill="#1870c0" opacity="0.47"/><circle cx="428.1" cy="190.6" r="1.1" fill="#072a70" opacity="0.59"/><circle cx="422.8" cy="189.5" r="1.3" fill="#1a98b0" opacity="0.55"/><circle cx="424.8" cy="187.5" r="1.2" fill="#1870c0" opacity="0.60"/><circle cx="424.1" cy="189.6" r="1.3" fill="#1870c0" opacity="0.46"/><ellipse cx="391.6" cy="195.5" rx="5" ry="6.6" fill="url(#gV)" transform="rotate(0 391.6 195.5)"/><circle cx="390.0" cy="198.7" r="0.5" fill="#1458a8" opacity="0.40"/><circle cx="391.6" cy="195.4" r="0.9" fill="#1458a8" opacity="0.47"/><circle cx="388.8" cy="194.0" r="0.6" fill="#1458a8" opacity="0.39"/><circle cx="392.9" cy="195.0" r="0.6" fill="#1888a8" opacity="0.42"/><circle cx="392.2" cy="194.8" r="0.7" fill="#1458a8" opacity="0.50"/><circle cx="389.4" cy="196.4" r="1.1" fill="#1888a8" opacity="0.47"/><circle cx="393.4" cy="194.8" r="1.2" fill="#1458a8" opacity="0.37"/><circle cx="392.6" cy="194.7" r="0.5" fill="#1458a8" opacity="0.43"/><circle cx="394.9" cy="194.6" r="0.8" fill="#1888a8" opacity="0.47"/><circle cx="392.6" cy="191.9" r="0.9" fill="#1458a8" opacity="0.42"/><circle cx="390.1" cy="192.5" r="1.1" fill="#061a48" opacity="0.59"/><circle cx="391.9" cy="196.7" r="1.1" fill="#1888a8" opacity="0.34"/><ellipse cx="329.9" cy="202.7" rx="5" ry="6.6" fill="url(#gV)" transform="rotate(0 329.9 202.7)"/><circle cx="329.3" cy="200.5" r="0.7" fill="#1458a8" opacity="0.49"/><circle cx="329.5" cy="201.5" r="1.0" fill="#1888a8" opacity="0.39"/><circle cx="328.4" cy="198.9" r="0.5" fill="#1888a8" opacity="0.44"/><circle cx="329.2" cy="199.0" r="0.6" fill="#061a48" opacity="0.55"/><circle cx="330.2" cy="205.8" r="1.2" fill="#1458a8" opacity="0.46"/><circle cx="333.2" cy="201.6" r="0.7" fill="#061a48" opacity="0.45"/><circle cx="328.3" cy="199.1" r="0.6" fill="#1458a8" opacity="0.41"/><circle cx="329.8" cy="203.6" r="0.6" fill="#1458a8" opacity="0.46"/><circle cx="332.3" cy="204.4" r="1.2" fill="#1888a8" opacity="0.37"/><circle cx="329.2" cy="199.7" r="0.6" fill="#1888a8" opacity="0.30"/><circle cx="331.4" cy="199.4" r="0.9" fill="#061a48" opacity="0.59"/><ellipse cx="368.2" cy="225.5" rx="6.6" ry="4.6" fill="url(#gE)" transform="rotate(-20 368.2 225.5)"/><circle cx="370.4" cy="227.6" r="0.7" fill="#1870c0" opacity="0.56"/><circle cx="364.3" cy="225.0" r="1.2" fill="#072a70" opacity="0.41"/><circle cx="371.5" cy="224.5" r="1.1" fill="#1870c0" opacity="0.38"/><circle cx="370.1" cy="224.9" r="1.1" fill="#1870c0" opacity="0.42"/><circle cx="368.8" cy="228.2" r="1.3" fill="#1870c0" opacity="0.39"/><circle cx="371.8" cy="222.8" r="0.6" fill="#1870c0" opacity="0.49"/><circle cx="367.6" cy="227.8" r="0.9" fill="#1870c0" opacity="0.37"/><circle cx="370.0" cy="225.6" r="0.6" fill="#072a70" opacity="0.53"/><circle cx="368.9" cy="228.4" r="1.1" fill="#1a98b0" opacity="0.44"/><circle cx="370.8" cy="227.7" r="0.9" fill="#1870c0" opacity="0.40"/><circle cx="366.6" cy="224.0" r="1.1" fill="#1870c0" opacity="0.55"/><ellipse cx="382.4" cy="242.5" rx="6.6" ry="5" fill="url(#gE)" transform="rotate(-25 382.4 242.5)"/><circle cx="382.4" cy="241.4" r="1.0" fill="#1870c0" opacity="0.53"/><circle cx="382.4" cy="239.2" r="0.7" fill="#1870c0" opacity="0.52"/><circle cx="380.7" cy="242.7" r="0.7" fill="#072a70" opacity="0.39"/><circle cx="380.4" cy="242.0" r="0.7" fill="#1a98b0" opacity="0.45"/><circle cx="382.0" cy="242.0" r="1.1" fill="#1870c0" opacity="0.43"/><circle cx="379.1" cy="241.5" r="1.0" fill="#072a70" opacity="0.41"/><circle cx="382.2" cy="245.6" r="0.7" fill="#1870c0" opacity="0.41"/><circle cx="382.3" cy="244.6" r="1.1" fill="#1870c0" opacity="0.51"/><circle cx="383.4" cy="242.5" r="0.9" fill="#1870c0" opacity="0.58"/><circle cx="383.8" cy="240.0" r="0.7" fill="#1870c0" opacity="0.48"/><ellipse cx="426.2" cy="250.2" rx="5.6" ry="7" fill="url(#gE)" transform="rotate(0 426.2 250.2)"/><circle cx="423.8" cy="249.8" r="1.1" fill="#1a98b0" opacity="0.50"/><circle cx="427.0" cy="251.0" r="0.8" fill="#1a98b0" opacity="0.39"/><circle cx="425.3" cy="248.1" r="0.8" fill="#1a98b0" opacity="0.49"/><circle cx="425.2" cy="249.1" r="0.9" fill="#072a70" opacity="0.43"/><circle cx="430.1" cy="251.4" r="1.2" fill="#1870c0" opacity="0.47"/><circle cx="424.6" cy="248.3" r="0.6" fill="#072a70" opacity="0.54"/><circle cx="425.1" cy="250.8" r="0.8" fill="#1870c0" opacity="0.59"/><circle cx="428.3" cy="251.1" r="1.1" fill="#1870c0" opacity="0.39"/><circle cx="427.7" cy="251.1" r="0.9" fill="#072a70" opacity="0.40"/><circle cx="427.8" cy="254.1" r="0.8" fill="#1870c0" opacity="0.39"/><circle cx="426.4" cy="255.2" r="0.6" fill="#1870c0" opacity="0.54"/><ellipse cx="324.2" cy="256.0" rx="5.6" ry="6.6" fill="url(#gD)" transform="rotate(0 324.2 256.0)"/><circle cx="323.5" cy="259.1" r="1.1" fill="#072a70" opacity="0.39"/><circle cx="325.6" cy="260.4" r="0.6" fill="#072a70" opacity="0.44"/><circle cx="325.6" cy="253.9" r="0.6" fill="#072a70" opacity="0.44"/><circle cx="325.2" cy="258.8" r="1.2" fill="#072a70" opacity="0.50"/><circle cx="327.7" cy="256.3" r="1.0" fill="#072a70" opacity="0.59"/><circle cx="322.5" cy="259.9" r="1.2" fill="#1668c0" opacity="0.45"/><circle cx="322.5" cy="258.0" r="0.8" fill="#1668c0" opacity="0.41"/><circle cx="326.4" cy="254.4" r="1.0" fill="#072a70" opacity="0.54"/><circle cx="324.3" cy="251.7" r="0.7" fill="#072a70" opacity="0.45"/><circle cx="325.0" cy="254.5" r="0.9" fill="#1668c0" opacity="0.56"/><circle cx="322.1" cy="259.6" r="1.2" fill="#072a70" opacity="0.39"/><ellipse cx="366.9" cy="273.2" rx="5" ry="6.6" fill="url(#gE)" transform="rotate(0 366.9 273.2)"/><circle cx="369.8" cy="271.6" r="1.0" fill="#072a70" opacity="0.37"/><circle cx="368.7" cy="270.6" r="0.9" fill="#1870c0" opacity="0.55"/><circle cx="367.6" cy="268.9" r="0.7" fill="#1870c0" opacity="0.42"/><circle cx="368.6" cy="274.8" r="0.5" fill="#072a70" opacity="0.41"/><circle cx="367.7" cy="273.7" r="1.1" fill="#1870c0" opacity="0.47"/><circle cx="364.3" cy="275.7" r="1.3" fill="#1870c0" opacity="0.51"/><circle cx="368.8" cy="271.2" r="1.2" fill="#072a70" opacity="0.43"/><circle cx="368.8" cy="270.6" r="0.6" fill="#072a70" opacity="0.56"/><circle cx="364.4" cy="272.8" r="0.8" fill="#072a70" opacity="0.52"/><circle cx="369.3" cy="276.4" r="0.5" fill="#072a70" opacity="0.46"/><ellipse cx="393.3" cy="269.2" rx="6" ry="5" fill="url(#gV)" transform="rotate(30 393.3 269.2)"/><circle cx="394.0" cy="266.9" r="0.6" fill="#1888a8" opacity="0.46"/><circle cx="394.9" cy="267.7" r="0.7" fill="#061a48" opacity="0.55"/><circle cx="392.3" cy="272.5" r="1.2" fill="#1888a8" opacity="0.38"/><circle cx="394.1" cy="265.8" r="0.6" fill="#1458a8" opacity="0.44"/><circle cx="393.9" cy="267.8" r="0.9" fill="#1888a8" opacity="0.43"/><circle cx="394.2" cy="272.9" r="1.2" fill="#1888a8" opacity="0.46"/><circle cx="393.2" cy="272.8" r="0.9" fill="#061a48" opacity="0.57"/><circle cx="389.7" cy="270.1" r="0.6" fill="#1458a8" opacity="0.48"/><circle cx="397.2" cy="269.1" r="1.2" fill="#1888a8" opacity="0.49"/><circle cx="392.2" cy="268.0" r="0.9" fill="#061a48" opacity="0.46"/><circle cx="392.3" cy="267.4" r="0.7" fill="#1888a8" opacity="0.40"/><ellipse cx="428.8" cy="280.0" rx="6.6" ry="4" fill="url(#gD)" transform="rotate(0 428.8 280.0)"/><circle cx="427.4" cy="280.2" r="0.5" fill="#1668c0" opacity="0.53"/><circle cx="428.8" cy="278.6" r="0.7" fill="#1a90b0" opacity="0.37"/><circle cx="425.2" cy="278.3" r="0.7" fill="#1a90b0" opacity="0.49"/><circle cx="428.8" cy="277.6" r="1.1" fill="#1668c0" opacity="0.56"/><circle cx="429.8" cy="279.7" r="1.3" fill="#1a90b0" opacity="0.35"/><circle cx="432.6" cy="281.1" r="1.0" fill="#1668c0" opacity="0.47"/><circle cx="425.7" cy="277.8" r="0.8" fill="#072a70" opacity="0.42"/><circle cx="429.4" cy="281.1" r="0.8" fill="#072a70" opacity="0.43"/><circle cx="430.0" cy="281.1" r="0.6" fill="#1668c0" opacity="0.44"/><ellipse cx="441.5" cy="232.7" rx="2.5" ry="3.5" fill="url(#gV)" transform="rotate(0 441.5 232.7)"/><circle cx="440.7" cy="232.7" r="0.8" fill="#1888a8" opacity="0.49"/><circle cx="439.8" cy="232.9" r="0.8" fill="#1458a8" opacity="0.50"/><circle cx="442.0" cy="233.5" r="0.6" fill="#061a48" opacity="0.59"/><circle cx="440.6" cy="233.6" r="0.8" fill="#1458a8" opacity="0.53"/></g><g filter="url(#dotblur)"><circle cx="367.6" cy="174.2" r="0.55" fill="#58f070" opacity="0.81"/><circle cx="369.2" cy="173.8" r="0.55" fill="#58f070" opacity="0.87"/><circle cx="431.5" cy="188.0" r="0.55" fill="#58f070" opacity="0.86"/><circle cx="423.0" cy="191.3" r="0.55" fill="#58f070" opacity="0.77"/><circle cx="329.3" cy="201.0" r="0.55" fill="#58f070" opacity="0.93"/><circle cx="381.6" cy="239.3" r="0.55" fill="#58f070" opacity="0.94"/><circle cx="426.5" cy="247.2" r="0.55" fill="#58f070" opacity="0.98"/><circle cx="429.2" cy="247.2" r="0.55" fill="#58f070" opacity="0.88"/><circle cx="324.2" cy="258.4" r="0.55" fill="#58f070" opacity="0.74"/><circle cx="324.3" cy="260.6" r="0.55" fill="#58f070" opacity="0.92"/><circle cx="367.5" cy="276.0" r="0.55" fill="#58f070" opacity="0.91"/></g></g><rect x="447.5" y="155" width="128.5" height="128.2" fill="#010104"/><g clip-path="url(#cp13)"><g filter="url(#soft1)"><ellipse cx="460.1" cy="191.1" rx="4.6" ry="6.6" fill="url(#gW)" transform="rotate(-20 460.1 191.1)"/><circle cx="459.6" cy="192.5" r="1.1" fill="#051840" opacity="0.36"/><circle cx="460.5" cy="187.4" r="0.8" fill="#051840" opacity="0.58"/><circle cx="459.1" cy="193.4" r="0.8" fill="#051840" opacity="0.52"/><circle cx="458.2" cy="186.9" r="0.7" fill="#0e4488" opacity="0.47"/><circle cx="459.5" cy="187.6" r="1.0" fill="#0e4488" opacity="0.49"/><circle cx="457.9" cy="190.9" r="0.7" fill="#0e4488" opacity="0.48"/><circle cx="460.0" cy="190.3" r="0.8" fill="#0e4488" opacity="0.40"/><circle cx="459.3" cy="195.0" r="0.8" fill="#051840" opacity="0.58"/><circle cx="457.9" cy="189.2" r="0.8" fill="#0e4488" opacity="0.42"/><ellipse cx="505.6" cy="185.2" rx="5" ry="6" fill="url(#gW)" transform="rotate(0 505.6 185.2)"/><circle cx="506.0" cy="183.1" r="0.8" fill="#0e4488" opacity="0.37"/><circle cx="507.9" cy="183.6" r="0.8" fill="#0e4488" opacity="0.46"/><circle cx="507.2" cy="188.2" r="0.6" fill="#0e4488" opacity="0.31"/><circle cx="506.1" cy="183.6" r="0.7" fill="#0e4488" opacity="0.35"/><circle cx="505.3" cy="181.6" r="1.1" fill="#051840" opacity="0.49"/><circle cx="506.6" cy="184.6" r="1.2" fill="#0e4488" opacity="0.34"/><circle cx="505.6" cy="181.2" r="0.8" fill="#0e4488" opacity="0.47"/><circle cx="505.7" cy="181.9" r="1.2" fill="#0e4488" opacity="0.31"/><circle cx="506.0" cy="185.6" r="1.0" fill="#051840" opacity="0.39"/><ellipse cx="547.2" cy="188.3" rx="7.5" ry="5" fill="url(#gW)" transform="rotate(0 547.2 188.3)"/><circle cx="548.4" cy="189.6" r="1.0" fill="#051840" opacity="0.59"/><circle cx="543.8" cy="191.0" r="0.9" fill="#0e4488" opacity="0.35"/><circle cx="547.8" cy="191.8" r="1.2" fill="#051840" opacity="0.40"/><circle cx="548.1" cy="189.6" r="0.8" fill="#051840" opacity="0.37"/><circle cx="542.8" cy="187.7" r="0.6" fill="#0e4488" opacity="0.46"/><circle cx="544.0" cy="187.2" r="1.1" fill="#051840" opacity="0.44"/><circle cx="543.0" cy="190.4" r="1.1" fill="#051840" opacity="0.49"/><circle cx="548.6" cy="189.5" r="0.8" fill="#051840" opacity="0.36"/><circle cx="548.7" cy="185.3" r="0.9" fill="#0e4488" opacity="0.46"/><circle cx="543.4" cy="189.8" r="0.9" fill="#051840" opacity="0.46"/><circle cx="552.3" cy="187.4" r="1.2" fill="#051840" opacity="0.44"/><ellipse cx="561.2" cy="211.5" rx="6.6" ry="5" fill="url(#gW)" transform="rotate(-20 561.2 211.5)"/><circle cx="560.0" cy="213.3" r="1.1" fill="#051840" opacity="0.55"/><circle cx="562.0" cy="207.8" r="1.0" fill="#0e4488" opacity="0.45"/><circle cx="561.9" cy="214.2" r="0.7" fill="#051840" opacity="0.48"/><circle cx="561.7" cy="215.0" r="0.6" fill="#051840" opacity="0.54"/><circle cx="564.4" cy="213.0" r="0.9" fill="#051840" opacity="0.50"/><circle cx="557.9" cy="214.4" r="0.7" fill="#051840" opacity="0.38"/><circle cx="561.4" cy="212.7" r="1.1" fill="#0e4488" opacity="0.45"/><circle cx="562.1" cy="214.4" r="1.0" fill="#0e4488" opacity="0.40"/><circle cx="560.3" cy="210.1" r="1.0" fill="#0e4488" opacity="0.37"/><circle cx="564.4" cy="208.5" r="1.2" fill="#0e4488" opacity="0.41"/><ellipse cx="503.5" cy="221.7" rx="7" ry="5" fill="url(#gW)" transform="rotate(0 503.5 221.7)"/><circle cx="505.1" cy="218.8" r="0.9" fill="#051840" opacity="0.46"/><circle cx="506.8" cy="220.9" r="0.7" fill="#051840" opacity="0.39"/><circle cx="503.0" cy="220.9" r="1.2" fill="#051840" opacity="0.54"/><circle cx="506.2" cy="223.8" r="0.8" fill="#0e4488" opacity="0.46"/><circle cx="506.9" cy="222.2" r="0.7" fill="#051840" opacity="0.57"/><circle cx="506.9" cy="222.2" r="0.9" fill="#051840" opacity="0.53"/><circle cx="500.8" cy="224.6" r="0.7" fill="#0e4488" opacity="0.46"/><circle cx="505.1" cy="222.8" r="0.9" fill="#0e4488" opacity="0.33"/><circle cx="506.6" cy="220.6" r="1.1" fill="#0e4488" opacity="0.48"/><circle cx="504.4" cy="225.1" r="1.0" fill="#051840" opacity="0.55"/><ellipse cx="523.6" cy="223.5" rx="6" ry="5" fill="url(#gW)" transform="rotate(-20 523.6 223.5)"/><circle cx="520.9" cy="222.4" r="1.1" fill="#0e4488" opacity="0.32"/><circle cx="526.2" cy="220.8" r="1.0" fill="#051840" opacity="0.42"/><circle cx="520.3" cy="225.5" r="1.2" fill="#051840" opacity="0.40"/><circle cx="521.5" cy="221.6" r="0.8" fill="#0e4488" opacity="0.33"/><circle cx="521.0" cy="225.0" r="0.8" fill="#0e4488" opacity="0.41"/><circle cx="522.9" cy="220.8" r="0.7" fill="#051840" opacity="0.45"/><circle cx="527.2" cy="221.2" r="0.7" fill="#051840" opacity="0.59"/><circle cx="521.9" cy="226.0" r="0.8" fill="#0e4488" opacity="0.34"/><circle cx="525.6" cy="224.2" r="1.0" fill="#051840" opacity="0.59"/><ellipse cx="466.3" cy="236.4" rx="5.6" ry="5" fill="url(#gW)" transform="rotate(0 466.3 236.4)"/><circle cx="465.3" cy="234.4" r="1.2" fill="#051840" opacity="0.49"/><circle cx="468.4" cy="234.2" r="0.8" fill="#051840" opacity="0.43"/><circle cx="468.3" cy="236.1" r="1.2" fill="#0e4488" opacity="0.30"/><circle cx="464.6" cy="235.9" r="0.9" fill="#0e4488" opacity="0.47"/><circle cx="464.7" cy="233.8" r="1.2" fill="#051840" opacity="0.52"/><circle cx="466.3" cy="236.3" r="0.6" fill="#0e4488" opacity="0.49"/><circle cx="465.1" cy="238.9" r="0.6" fill="#0e4488" opacity="0.48"/><circle cx="463.2" cy="234.7" r="0.6" fill="#0e4488" opacity="0.34"/><circle cx="466.9" cy="235.4" r="1.2" fill="#0e4488" opacity="0.48"/><ellipse cx="518.1" cy="242.1" rx="6" ry="6.6" fill="url(#gW)" transform="rotate(-30 518.1 242.1)"/><circle cx="515.9" cy="243.1" r="1.2" fill="#0e4488" opacity="0.44"/><circle cx="522.1" cy="241.8" r="1.2" fill="#0e4488" opacity="0.45"/><circle cx="518.8" cy="243.8" r="0.8" fill="#051840" opacity="0.59"/><circle cx="521.7" cy="239.8" r="1.0" fill="#051840" opacity="0.40"/><circle cx="515.9" cy="239.3" r="0.8" fill="#051840" opacity="0.42"/><circle cx="519.8" cy="242.8" r="0.7" fill="#051840" opacity="0.55"/><circle cx="520.9" cy="243.7" r="0.9" fill="#051840" opacity="0.46"/><circle cx="517.6" cy="242.2" r="0.6" fill="#0e4488" opacity="0.35"/><circle cx="517.0" cy="240.0" r="1.1" fill="#0e4488" opacity="0.32"/><circle cx="516.0" cy="243.8" r="0.8" fill="#051840" opacity="0.41"/><circle cx="514.6" cy="239.8" r="0.9" fill="#051840" opacity="0.58"/><ellipse cx="546.1" cy="245.2" rx="5" ry="6.6" fill="url(#gW)" transform="rotate(0 546.1 245.2)"/><circle cx="544.9" cy="244.0" r="0.6" fill="#0e4488" opacity="0.37"/><circle cx="548.6" cy="247.2" r="0.9" fill="#0e4488" opacity="0.40"/><circle cx="547.7" cy="244.3" r="0.7" fill="#0e4488" opacity="0.36"/><circle cx="548.7" cy="243.1" r="0.9" fill="#0e4488" opacity="0.31"/><circle cx="548.5" cy="248.2" r="1.0" fill="#0e4488" opacity="0.43"/><circle cx="548.5" cy="246.4" r="0.8" fill="#0e4488" opacity="0.45"/><circle cx="545.6" cy="241.9" r="0.7" fill="#051840" opacity="0.46"/><circle cx="545.5" cy="244.0" r="1.1" fill="#0e4488" opacity="0.34"/><circle cx="544.8" cy="246.5" r="0.7" fill="#051840" opacity="0.60"/><circle cx="545.2" cy="247.3" r="1.0" fill="#0e4488" opacity="0.38"/><ellipse cx="497.3" cy="251.3" rx="5.6" ry="7" fill="url(#gW)" transform="rotate(25 497.3 251.3)"/><circle cx="497.7" cy="248.1" r="0.7" fill="#0e4488" opacity="0.41"/><circle cx="500.9" cy="252.7" r="0.7" fill="#051840" opacity="0.48"/><circle cx="496.7" cy="255.3" r="0.9" fill="#051840" opacity="0.43"/><circle cx="501.1" cy="251.0" r="0.9" fill="#0e4488" opacity="0.40"/><circle cx="498.1" cy="255.0" r="1.0" fill="#051840" opacity="0.59"/><circle cx="499.8" cy="253.8" r="1.1" fill="#0e4488" opacity="0.36"/><circle cx="499.4" cy="253.7" r="1.0" fill="#0e4488" opacity="0.44"/><circle cx="493.9" cy="253.2" r="0.8" fill="#051840" opacity="0.47"/><circle cx="498.4" cy="251.8" r="1.0" fill="#051840" opacity="0.51"/><circle cx="497.6" cy="255.7" r="1.0" fill="#0e4488" opacity="0.38"/><circle cx="497.3" cy="251.0" r="0.6" fill="#0e4488" opacity="0.47"/><ellipse cx="475.4" cy="260.0" rx="5" ry="7" fill="url(#gW)" transform="rotate(0 475.4 260.0)"/><circle cx="477.4" cy="259.9" r="1.1" fill="#051840" opacity="0.57"/><circle cx="472.4" cy="257.4" r="1.0" fill="#051840" opacity="0.50"/><circle cx="476.3" cy="263.4" r="0.9" fill="#0e4488" opacity="0.37"/><circle cx="472.6" cy="259.7" r="0.7" fill="#0e4488" opacity="0.40"/><circle cx="473.1" cy="259.9" r="1.0" fill="#0e4488" opacity="0.41"/><circle cx="474.9" cy="264.4" r="1.0" fill="#051840" opacity="0.48"/><circle cx="475.4" cy="264.8" r="0.9" fill="#0e4488" opacity="0.36"/><circle cx="472.9" cy="262.4" r="1.1" fill="#0e4488" opacity="0.45"/><circle cx="476.0" cy="263.3" r="0.8" fill="#0e4488" opacity="0.37"/><circle cx="475.5" cy="255.7" r="0.7" fill="#0e4488" opacity="0.46"/><ellipse cx="568.4" cy="251.3" rx="4.6" ry="6.6" fill="url(#gW)" transform="rotate(-30 568.4 251.3)"/><circle cx="565.5" cy="249.3" r="1.0" fill="#051840" opacity="0.43"/><circle cx="570.5" cy="251.3" r="0.6" fill="#051840" opacity="0.49"/><circle cx="565.0" cy="248.5" r="1.1" fill="#0e4488" opacity="0.37"/><circle cx="571.7" cy="252.5" r="1.0" fill="#0e4488" opacity="0.37"/><circle cx="569.8" cy="254.3" r="1.0" fill="#051840" opacity="0.56"/><circle cx="568.5" cy="248.5" r="0.9" fill="#0e4488" opacity="0.49"/><circle cx="569.7" cy="252.5" r="0.8" fill="#051840" opacity="0.56"/><circle cx="569.0" cy="255.4" r="1.1" fill="#0e4488" opacity="0.34"/><circle cx="567.2" cy="248.7" r="0.7" fill="#051840" opacity="0.47"/><ellipse cx="534.5" cy="274.3" rx="6" ry="5" fill="url(#gW)" transform="rotate(0 534.5 274.3)"/><circle cx="531.8" cy="276.0" r="0.8" fill="#0e4488" opacity="0.38"/><circle cx="534.2" cy="274.6" r="0.8" fill="#051840" opacity="0.44"/><circle cx="533.0" cy="271.7" r="0.7" fill="#0e4488" opacity="0.43"/><circle cx="532.7" cy="273.0" r="0.7" fill="#051840" opacity="0.58"/><circle cx="534.8" cy="277.0" r="0.9" fill="#0e4488" opacity="0.31"/><circle cx="532.9" cy="276.9" r="1.0" fill="#051840" opacity="0.39"/><circle cx="535.1" cy="276.3" r="0.8" fill="#0e4488" opacity="0.48"/><circle cx="537.7" cy="276.7" r="0.7" fill="#051840" opacity="0.42"/><circle cx="532.2" cy="273.1" r="0.6" fill="#051840" opacity="0.55"/><ellipse cx="561.9" cy="272.0" rx="5" ry="6.6" fill="url(#gW)" transform="rotate(0 561.9 272.0)"/><circle cx="561.5" cy="276.2" r="0.9" fill="#051840" opacity="0.37"/><circle cx="560.6" cy="273.5" r="1.0" fill="#051840" opacity="0.56"/><circle cx="559.8" cy="271.1" r="1.1" fill="#0e4488" opacity="0.35"/><circle cx="561.9" cy="268.8" r="1.2" fill="#0e4488" opacity="0.39"/><circle cx="561.9" cy="272.2" r="0.7" fill="#0e4488" opacity="0.37"/><circle cx="559.6" cy="273.4" r="0.8" fill="#051840" opacity="0.48"/><circle cx="563.4" cy="271.8" r="0.9" fill="#0e4488" opacity="0.37"/><circle cx="563.0" cy="270.3" r="1.1" fill="#0e4488" opacity="0.37"/><circle cx="559.9" cy="269.6" r="0.8" fill="#0e4488" opacity="0.49"/><circle cx="561.1" cy="273.2" r="1.0" fill="#051840" opacity="0.44"/><ellipse cx="470.0" cy="159.4" rx="2" ry="2" fill="url(#gW)" transform="rotate(0 470.0 159.4)"/><circle cx="469.4" cy="160.6" r="0.8" fill="#0e4488" opacity="0.49"/><circle cx="469.4" cy="160.1" r="0.7" fill="#051840" opacity="0.52"/><circle cx="469.1" cy="159.7" r="0.7" fill="#051840" opacity="0.47"/></g></g><rect x="579.5" y="155" width="128.5" height="128.2" fill="#010104"/><g clip-path="url(#cp14)"><g filter="url(#soft1)"><ellipse cx="643.5" cy="158.3" rx="5.5" ry="4" fill="url(#gV)" transform="rotate(0 643.5 158.3)"/><circle cx="644.7" cy="156.8" r="1.0" fill="#1458a8" opacity="0.41"/><circle cx="646.7" cy="157.7" r="1.0" fill="#1888a8" opacity="0.39"/><circle cx="644.0" cy="159.4" r="1.0" fill="#061a48" opacity="0.42"/><circle cx="642.6" cy="157.5" r="0.9" fill="#1458a8" opacity="0.48"/><circle cx="642.4" cy="160.3" r="0.6" fill="#1888a8" opacity="0.42"/><circle cx="645.0" cy="159.5" r="1.0" fill="#1888a8" opacity="0.42"/><circle cx="644.1" cy="156.2" r="0.7" fill="#1888a8" opacity="0.47"/><circle cx="640.4" cy="157.3" r="0.8" fill="#1888a8" opacity="0.49"/><circle cx="644.9" cy="156.2" r="0.6" fill="#1888a8" opacity="0.31"/><ellipse cx="583.4" cy="171.4" rx="3" ry="5" fill="url(#gW)" transform="rotate(0 583.4 171.4)"/><circle cx="585.3" cy="170.0" r="1.0" fill="#0e4488" opacity="0.47"/><circle cx="584.3" cy="174.3" r="0.9" fill="#0e4488" opacity="0.48"/><circle cx="581.6" cy="172.6" r="1.0" fill="#051840" opacity="0.57"/><circle cx="584.0" cy="174.7" r="0.8" fill="#0e4488" opacity="0.37"/><circle cx="583.9" cy="171.8" r="1.0" fill="#0e4488" opacity="0.33"/><ellipse cx="604.2" cy="176.9" rx="6.6" ry="5" fill="url(#gV)" transform="rotate(-30 604.2 176.9)"/><circle cx="604.5" cy="178.8" r="1.1" fill="#061a48" opacity="0.57"/><circle cx="606.8" cy="175.2" r="1.1" fill="#1458a8" opacity="0.58"/><circle cx="604.1" cy="173.7" r="0.7" fill="#1458a8" opacity="0.58"/><circle cx="600.7" cy="177.9" r="1.1" fill="#1458a8" opacity="0.53"/><circle cx="601.0" cy="179.6" r="0.8" fill="#1458a8" opacity="0.59"/><circle cx="605.0" cy="179.9" r="1.1" fill="#1458a8" opacity="0.53"/><circle cx="603.2" cy="178.7" r="0.7" fill="#061a48" opacity="0.45"/><circle cx="601.2" cy="178.4" r="0.5" fill="#061a48" opacity="0.54"/><circle cx="605.2" cy="174.6" r="0.6" fill="#1458a8" opacity="0.54"/><circle cx="601.8" cy="176.1" r="0.9" fill="#1458a8" opacity="0.58"/><circle cx="601.5" cy="179.0" r="1.1" fill="#1458a8" opacity="0.53"/><circle cx="603.3" cy="180.4" r="0.6" fill="#1458a8" opacity="0.51"/><ellipse cx="622.3" cy="180.8" rx="5.6" ry="6" fill="url(#gV)" transform="rotate(-30 622.3 180.8)"/><circle cx="620.3" cy="182.3" r="0.9" fill="#1458a8" opacity="0.46"/><circle cx="625.4" cy="179.0" r="0.7" fill="#061a48" opacity="0.49"/><circle cx="619.1" cy="180.3" r="0.6" fill="#061a48" opacity="0.43"/><circle cx="622.9" cy="177.1" r="1.0" fill="#061a48" opacity="0.46"/><circle cx="618.9" cy="178.5" r="0.6" fill="#1458a8" opacity="0.46"/><circle cx="620.9" cy="181.5" r="0.7" fill="#061a48" opacity="0.45"/><circle cx="623.9" cy="181.6" r="0.9" fill="#1458a8" opacity="0.47"/><circle cx="619.7" cy="181.5" r="0.9" fill="#061a48" opacity="0.36"/><circle cx="623.3" cy="179.3" r="0.5" fill="#061a48" opacity="0.50"/><circle cx="620.5" cy="181.3" r="1.0" fill="#1458a8" opacity="0.53"/><circle cx="624.3" cy="183.4" r="1.0" fill="#1458a8" opacity="0.48"/><circle cx="625.6" cy="180.5" r="1.0" fill="#1458a8" opacity="0.49"/><ellipse cx="656.0" cy="183.4" rx="6.6" ry="6" fill="url(#gV)" transform="rotate(0 656.0 183.4)"/><circle cx="655.8" cy="182.0" r="1.1" fill="#061a48" opacity="0.37"/><circle cx="656.0" cy="184.7" r="0.7" fill="#1458a8" opacity="0.48"/><circle cx="656.0" cy="185.8" r="0.8" fill="#1458a8" opacity="0.55"/><circle cx="655.7" cy="182.0" r="0.7" fill="#1458a8" opacity="0.44"/><circle cx="660.0" cy="184.3" r="0.8" fill="#061a48" opacity="0.45"/><circle cx="655.5" cy="184.5" r="1.2" fill="#1888a8" opacity="0.39"/><circle cx="652.2" cy="184.9" r="1.1" fill="#1888a8" opacity="0.34"/><circle cx="652.3" cy="185.7" r="0.8" fill="#1888a8" opacity="0.41"/><circle cx="652.5" cy="184.2" r="0.7" fill="#1888a8" opacity="0.47"/><circle cx="653.4" cy="180.9" r="1.1" fill="#1888a8" opacity="0.33"/><circle cx="654.8" cy="186.9" r="1.0" fill="#1458a8" opacity="0.51"/><circle cx="653.9" cy="180.5" r="0.5" fill="#1888a8" opacity="0.36"/><ellipse cx="644.2" cy="194.0" rx="6.6" ry="5" fill="url(#gV)" transform="rotate(-20 644.2 194.0)"/><circle cx="641.7" cy="193.6" r="0.6" fill="#1888a8" opacity="0.36"/><circle cx="644.2" cy="192.0" r="0.9" fill="#061a48" opacity="0.39"/><circle cx="643.7" cy="193.2" r="1.2" fill="#1458a8" opacity="0.53"/><circle cx="643.3" cy="195.5" r="0.8" fill="#1888a8" opacity="0.38"/><circle cx="642.5" cy="195.4" r="1.2" fill="#1458a8" opacity="0.52"/><circle cx="644.9" cy="191.7" r="1.0" fill="#1458a8" opacity="0.39"/><circle cx="647.3" cy="193.5" r="1.1" fill="#1458a8" opacity="0.47"/><circle cx="643.7" cy="192.2" r="0.6" fill="#1888a8" opacity="0.39"/><circle cx="647.7" cy="191.4" r="0.7" fill="#1888a8" opacity="0.38"/><circle cx="647.3" cy="193.4" r="1.1" fill="#1458a8" opacity="0.50"/><circle cx="643.6" cy="193.3" r="1.1" fill="#1458a8" opacity="0.43"/><ellipse cx="618.0" cy="196.1" rx="5.6" ry="6" fill="url(#gV)" transform="rotate(-30 618.0 196.1)"/><circle cx="617.6" cy="195.7" r="0.8" fill="#1458a8" opacity="0.47"/><circle cx="619.4" cy="195.5" r="0.7" fill="#1458a8" opacity="0.38"/><circle cx="620.3" cy="198.1" r="0.6" fill="#061a48" opacity="0.46"/><circle cx="619.0" cy="197.9" r="1.1" fill="#1458a8" opacity="0.54"/><circle cx="622.0" cy="196.6" r="0.8" fill="#1888a8" opacity="0.47"/><circle cx="619.0" cy="196.2" r="1.0" fill="#1888a8" opacity="0.44"/><circle cx="619.1" cy="198.9" r="0.6" fill="#1888a8" opacity="0.36"/><circle cx="615.8" cy="196.0" r="0.7" fill="#1888a8" opacity="0.32"/><circle cx="617.3" cy="193.2" r="0.7" fill="#1458a8" opacity="0.48"/><circle cx="615.0" cy="197.7" r="0.8" fill="#1888a8" opacity="0.48"/><circle cx="619.8" cy="199.6" r="0.9" fill="#1458a8" opacity="0.60"/><ellipse cx="675.2" cy="185.6" rx="4" ry="5" fill="url(#gW)" transform="rotate(0 675.2 185.6)"/><circle cx="673.6" cy="183.0" r="0.9" fill="#0e4488" opacity="0.47"/><circle cx="675.9" cy="187.2" r="1.0" fill="#0e4488" opacity="0.39"/><circle cx="675.0" cy="184.5" r="1.0" fill="#0e4488" opacity="0.40"/><circle cx="673.8" cy="183.2" r="0.6" fill="#0e4488" opacity="0.49"/><circle cx="673.7" cy="187.1" r="0.8" fill="#051840" opacity="0.54"/><circle cx="674.1" cy="183.8" r="0.9" fill="#051840" opacity="0.41"/><circle cx="677.9" cy="184.5" r="1.1" fill="#051840" opacity="0.47"/><ellipse cx="597.6" cy="215.2" rx="6.6" ry="6" fill="url(#gV)" transform="rotate(0 597.6 215.2)"/><circle cx="598.8" cy="213.4" r="1.0" fill="#061a48" opacity="0.59"/><circle cx="599.8" cy="211.7" r="0.7" fill="#061a48" opacity="0.47"/><circle cx="596.5" cy="217.6" r="1.1" fill="#061a48" opacity="0.56"/><circle cx="596.6" cy="213.6" r="0.6" fill="#1888a8" opacity="0.34"/><circle cx="596.8" cy="216.4" r="0.6" fill="#061a48" opacity="0.41"/><circle cx="599.2" cy="213.2" r="1.1" fill="#1458a8" opacity="0.42"/><circle cx="597.2" cy="215.5" r="0.8" fill="#1458a8" opacity="0.36"/><circle cx="597.6" cy="215.9" r="0.6" fill="#061a48" opacity="0.50"/><circle cx="602.1" cy="214.9" r="0.6" fill="#061a48" opacity="0.37"/><circle cx="596.6" cy="211.4" r="1.0" fill="#1888a8" opacity="0.46"/><circle cx="599.6" cy="217.8" r="0.7" fill="#1458a8" opacity="0.41"/><circle cx="596.7" cy="212.0" r="1.0" fill="#1888a8" opacity="0.42"/><ellipse cx="632.6" cy="216.3" rx="5.6" ry="6.6" fill="url(#gV)" transform="rotate(-30 632.6 216.3)"/><circle cx="634.4" cy="212.9" r="0.9" fill="#1458a8" opacity="0.58"/><circle cx="632.4" cy="217.7" r="0.7" fill="#061a48" opacity="0.58"/><circle cx="629.3" cy="214.6" r="1.2" fill="#061a48" opacity="0.47"/><circle cx="630.1" cy="218.9" r="0.7" fill="#1458a8" opacity="0.51"/><circle cx="632.1" cy="214.0" r="1.0" fill="#061a48" opacity="0.39"/><circle cx="635.5" cy="217.5" r="0.7" fill="#061a48" opacity="0.60"/><circle cx="630.4" cy="219.2" r="0.9" fill="#1458a8" opacity="0.59"/><circle cx="633.6" cy="217.1" r="0.8" fill="#1458a8" opacity="0.48"/><circle cx="630.9" cy="220.1" r="0.8" fill="#061a48" opacity="0.55"/><circle cx="630.5" cy="216.1" r="0.7" fill="#1888a8" opacity="0.38"/><circle cx="629.7" cy="214.9" r="0.7" fill="#1888a8" opacity="0.50"/><circle cx="634.5" cy="218.2" r="0.5" fill="#1458a8" opacity="0.37"/><ellipse cx="602.0" cy="234.2" rx="6.6" ry="7.6" fill="url(#gD)" transform="rotate(0 602.0 234.2)"/><circle cx="598.9" cy="232.1" r="0.5" fill="#1a90b0" opacity="0.39"/><circle cx="601.1" cy="233.2" r="0.9" fill="#1a90b0" opacity="0.44"/><circle cx="600.7" cy="235.2" r="1.1" fill="#072a70" opacity="0.50"/><circle cx="606.3" cy="235.7" r="1.0" fill="#1668c0" opacity="0.58"/><circle cx="604.1" cy="229.6" r="0.7" fill="#1a90b0" opacity="0.41"/><circle cx="600.8" cy="238.8" r="1.0" fill="#1668c0" opacity="0.49"/><circle cx="605.2" cy="232.4" r="1.2" fill="#1a90b0" opacity="0.55"/><circle cx="605.2" cy="234.9" r="0.9" fill="#072a70" opacity="0.59"/><circle cx="599.7" cy="231.6" r="1.0" fill="#1a90b0" opacity="0.49"/><circle cx="602.5" cy="234.0" r="0.8" fill="#072a70" opacity="0.37"/><circle cx="602.2" cy="233.3" r="1.0" fill="#072a70" opacity="0.42"/><circle cx="600.3" cy="236.0" r="1.1" fill="#1a90b0" opacity="0.46"/><circle cx="600.3" cy="237.9" r="1.3" fill="#072a70" opacity="0.59"/><circle cx="602.1" cy="238.1" r="0.8" fill="#1668c0" opacity="0.55"/><circle cx="603.6" cy="237.8" r="1.1" fill="#072a70" opacity="0.36"/><circle cx="601.6" cy="238.0" r="1.2" fill="#1668c0" opacity="0.56"/><ellipse cx="623.8" cy="236.0" rx="6" ry="5.6" fill="url(#gV)" transform="rotate(0 623.8 236.0)"/><circle cx="621.2" cy="237.8" r="1.1" fill="#1458a8" opacity="0.44"/><circle cx="624.7" cy="237.2" r="0.7" fill="#061a48" opacity="0.50"/><circle cx="626.6" cy="238.5" r="0.9" fill="#1458a8" opacity="0.56"/><circle cx="624.7" cy="234.3" r="1.2" fill="#061a48" opacity="0.41"/><circle cx="627.8" cy="236.0" r="1.1" fill="#1458a8" opacity="0.54"/><circle cx="625.9" cy="232.7" r="0.7" fill="#1888a8" opacity="0.44"/><circle cx="625.7" cy="233.5" r="0.7" fill="#1458a8" opacity="0.49"/><circle cx="626.4" cy="238.8" r="1.1" fill="#1458a8" opacity="0.53"/><circle cx="623.1" cy="234.8" r="1.0" fill="#061a48" opacity="0.43"/><circle cx="625.7" cy="237.2" r="1.0" fill="#1888a8" opacity="0.46"/><circle cx="624.6" cy="237.1" r="0.7" fill="#061a48" opacity="0.40"/><ellipse cx="656.6" cy="237.7" rx="5" ry="6" fill="url(#gV)" transform="rotate(0 656.6 237.7)"/><circle cx="659.4" cy="239.4" r="0.6" fill="#1888a8" opacity="0.32"/><circle cx="656.7" cy="241.2" r="1.1" fill="#1458a8" opacity="0.47"/><circle cx="658.7" cy="238.2" r="0.7" fill="#061a48" opacity="0.53"/><circle cx="657.2" cy="234.6" r="1.0" fill="#1458a8" opacity="0.45"/><circle cx="656.1" cy="239.9" r="1.0" fill="#1458a8" opacity="0.44"/><circle cx="655.9" cy="241.6" r="0.9" fill="#1888a8" opacity="0.38"/><circle cx="659.7" cy="235.7" r="0.8" fill="#1888a8" opacity="0.47"/><circle cx="656.5" cy="239.9" r="0.6" fill="#1888a8" opacity="0.45"/><circle cx="657.9" cy="240.1" r="1.2" fill="#1888a8" opacity="0.38"/><circle cx="658.4" cy="234.2" r="0.8" fill="#1458a8" opacity="0.51"/><circle cx="656.4" cy="233.6" r="1.0" fill="#1458a8" opacity="0.48"/><ellipse cx="686.6" cy="229.4" rx="6.6" ry="5" fill="url(#gV)" transform="rotate(0 686.6 229.4)"/><circle cx="685.9" cy="231.7" r="0.8" fill="#061a48" opacity="0.58"/><circle cx="689.5" cy="228.3" r="1.2" fill="#1458a8" opacity="0.58"/><circle cx="689.1" cy="226.7" r="0.8" fill="#061a48" opacity="0.41"/><circle cx="686.7" cy="226.9" r="0.8" fill="#1458a8" opacity="0.55"/><circle cx="686.4" cy="228.3" r="1.2" fill="#1458a8" opacity="0.45"/><circle cx="683.5" cy="230.8" r="1.1" fill="#061a48" opacity="0.51"/><circle cx="685.6" cy="230.3" r="0.5" fill="#1888a8" opacity="0.42"/><circle cx="682.1" cy="230.6" r="0.8" fill="#1458a8" opacity="0.46"/><circle cx="688.8" cy="232.5" r="0.9" fill="#1888a8" opacity="0.39"/><circle cx="686.6" cy="231.4" r="0.8" fill="#1888a8" opacity="0.50"/><circle cx="684.6" cy="228.8" r="0.5" fill="#1458a8" opacity="0.44"/><ellipse cx="690.5" cy="242.5" rx="5" ry="5" fill="url(#gW)" transform="rotate(0 690.5 242.5)"/><circle cx="691.2" cy="239.2" r="0.7" fill="#051840" opacity="0.47"/><circle cx="687.9" cy="241.9" r="0.6" fill="#0e4488" opacity="0.43"/><circle cx="689.7" cy="240.4" r="1.2" fill="#051840" opacity="0.43"/><circle cx="692.9" cy="243.6" r="1.0" fill="#0e4488" opacity="0.31"/><circle cx="689.8" cy="242.6" r="1.0" fill="#051840" opacity="0.43"/><circle cx="688.9" cy="243.1" r="0.7" fill="#0e4488" opacity="0.46"/><circle cx="687.6" cy="243.4" r="0.8" fill="#051840" opacity="0.50"/><circle cx="689.2" cy="240.6" r="0.9" fill="#0e4488" opacity="0.49"/><ellipse cx="622.7" cy="262.7" rx="7.6" ry="5.6" fill="url(#gV)" transform="rotate(0 622.7 262.7)"/><circle cx="620.8" cy="260.1" r="0.9" fill="#1458a8" opacity="0.44"/><circle cx="623.3" cy="266.4" r="0.5" fill="#1888a8" opacity="0.47"/><circle cx="623.6" cy="259.4" r="0.7" fill="#1458a8" opacity="0.53"/><circle cx="621.3" cy="266.0" r="0.7" fill="#061a48" opacity="0.50"/><circle cx="623.4" cy="262.2" r="0.9" fill="#1458a8" opacity="0.54"/><circle cx="621.7" cy="264.4" r="1.0" fill="#1888a8" opacity="0.45"/><circle cx="621.7" cy="262.8" r="1.0" fill="#1458a8" opacity="0.47"/><circle cx="625.5" cy="262.7" r="1.0" fill="#061a48" opacity="0.51"/><circle cx="618.3" cy="263.9" r="1.0" fill="#1458a8" opacity="0.49"/><circle cx="618.9" cy="260.7" r="0.6" fill="#1458a8" opacity="0.44"/><circle cx="625.4" cy="264.0" r="1.0" fill="#1888a8" opacity="0.33"/><circle cx="622.5" cy="261.3" r="1.0" fill="#1458a8" opacity="0.38"/><circle cx="622.7" cy="265.6" r="0.7" fill="#061a48" opacity="0.59"/><circle cx="621.7" cy="266.1" r="1.0" fill="#1888a8" opacity="0.35"/><ellipse cx="667.6" cy="267.7" rx="5.6" ry="6.6" fill="url(#gV)" transform="rotate(0 667.6 267.7)"/><circle cx="671.3" cy="266.3" r="0.5" fill="#1458a8" opacity="0.44"/><circle cx="668.4" cy="270.7" r="1.1" fill="#1458a8" opacity="0.56"/><circle cx="667.4" cy="268.2" r="1.1" fill="#1458a8" opacity="0.41"/><circle cx="669.4" cy="269.6" r="0.6" fill="#1458a8" opacity="0.42"/><circle cx="665.2" cy="266.2" r="0.7" fill="#1888a8" opacity="0.45"/><circle cx="667.2" cy="265.0" r="1.1" fill="#061a48" opacity="0.49"/><circle cx="665.3" cy="268.1" r="0.6" fill="#061a48" opacity="0.51"/><circle cx="670.8" cy="270.4" r="1.1" fill="#1458a8" opacity="0.53"/><circle cx="667.8" cy="271.2" r="1.1" fill="#1458a8" opacity="0.48"/><circle cx="666.7" cy="265.9" r="0.9" fill="#1888a8" opacity="0.50"/><circle cx="668.9" cy="271.4" r="0.5" fill="#1458a8" opacity="0.39"/><circle cx="669.3" cy="270.5" r="0.6" fill="#061a48" opacity="0.38"/><circle cx="664.9" cy="264.6" r="0.6" fill="#1458a8" opacity="0.54"/><ellipse cx="703.3" cy="256.0" rx="3" ry="6" fill="url(#gV)" transform="rotate(0 703.3 256.0)"/><circle cx="701.3" cy="256.8" r="0.7" fill="#1458a8" opacity="0.59"/><circle cx="702.1" cy="259.5" r="1.1" fill="#1458a8" opacity="0.49"/><circle cx="704.0" cy="255.5" r="1.1" fill="#061a48" opacity="0.54"/><circle cx="702.7" cy="255.2" r="1.2" fill="#1458a8" opacity="0.55"/><circle cx="703.1" cy="253.6" r="1.0" fill="#1458a8" opacity="0.54"/><circle cx="705.3" cy="257.1" r="0.8" fill="#061a48" opacity="0.47"/><circle cx="703.8" cy="253.8" r="0.9" fill="#1458a8" opacity="0.48"/><ellipse cx="686.2" cy="207.5" rx="5" ry="4" fill="url(#gW)" transform="rotate(0 686.2 207.5)"/><circle cx="689.1" cy="208.8" r="1.0" fill="#0e4488" opacity="0.49"/><circle cx="689.5" cy="206.6" r="0.6" fill="#051840" opacity="0.53"/><circle cx="685.8" cy="207.3" r="1.2" fill="#0e4488" opacity="0.42"/><circle cx="686.9" cy="206.1" r="0.6" fill="#051840" opacity="0.42"/><circle cx="687.5" cy="207.8" r="1.2" fill="#051840" opacity="0.41"/><circle cx="688.3" cy="209.7" r="1.0" fill="#051840" opacity="0.39"/><circle cx="683.2" cy="209.0" r="0.6" fill="#0e4488" opacity="0.31"/></g><g filter="url(#dotblur)"><circle cx="659.1" cy="185.7" r="0.55" fill="#58f070" opacity="0.76"/><circle cx="658.5" cy="184.7" r="0.55" fill="#58f070" opacity="0.70"/><circle cx="647.1" cy="194.9" r="0.55" fill="#58f070" opacity="0.81"/><circle cx="619.6" cy="200.1" r="0.55" fill="#58f070" opacity="0.98"/><circle cx="599.5" cy="213.2" r="0.55" fill="#58f070" opacity="0.77"/><circle cx="595.2" cy="215.1" r="0.55" fill="#58f070" opacity="0.81"/><circle cx="630.8" cy="219.7" r="0.55" fill="#58f070" opacity="0.95"/><circle cx="604.7" cy="237.0" r="0.55" fill="#58f070" opacity="0.93"/><circle cx="624.3" cy="232.8" r="0.55" fill="#58f070" opacity="0.80"/><circle cx="683.8" cy="226.8" r="0.55" fill="#58f070" opacity="0.71"/><circle cx="624.9" cy="259.0" r="0.55" fill="#58f070" opacity="0.70"/></g></g><rect x="707" y="155" width="1" height="128.2" fill="#3a3a3a"/><rect x="678.9" y="157.3" width="26" height="47.4" fill="#fff" stroke="#222" stroke-width="0.9"/><rect x="682.5" y="160.6" width="3.8" height="41.2" fill="url(#cbar)" stroke="#8a8a8a" stroke-width="0.7"/><text x="687.8" y="162.6" font-size="4.8" fill="#1a1a1a" font-family="Liberation Sans, sans-serif">60687</text><text x="687.8" y="172.8" font-size="4.8" fill="#1a1a1a" font-family="Liberation Sans, sans-serif">45710</text><text x="687.8" y="183.1" font-size="4.8" fill="#1a1a1a" font-family="Liberation Sans, sans-serif">30734</text><text x="687.8" y="193.3" font-size="4.8" fill="#1a1a1a" font-family="Liberation Sans, sans-serif">15757</text><text x="687.8" y="203.6" font-size="4.8" fill="#1a1a1a" font-family="Liberation Sans, sans-serif">780</text><rect x="680" y="274" width="25.3" height="1.5" fill="#e8e8e8"/><text x="692.6" y="280.6" font-size="4.8" fill="#e8e8e8" text-anchor="middle" font-family="Liberation Sans, sans-serif">25 µm</text>
<g font-family="Liberation Sans, Arial, Helvetica, sans-serif"><line x1="154.29999999999998" y1="361.7" x2="154.29999999999998" y2="357.4" stroke="#1a1a1a" stroke-width="1.4"/><line x1="145.7" y1="357.4" x2="162.89999999999998" y2="357.4" stroke="#222" stroke-width="1.4"/><rect x="138.7" y="361.7" width="31.2" height="177.8" fill="#fe2a73" stroke="#000" stroke-width="2"/><line x1="145.7" y1="362.8" x2="162.89999999999998" y2="362.8" stroke="#111" stroke-width="1.3" opacity="0.85"/><line x1="196.5" y1="371.5" x2="196.5" y2="367.3" stroke="#1a1a1a" stroke-width="1.4"/><line x1="187.9" y1="367.3" x2="205.1" y2="367.3" stroke="#222" stroke-width="1.4"/><rect x="180.9" y="371.5" width="31.2" height="168.0" fill="#00fbfb" stroke="#000" stroke-width="2"/><line x1="187.9" y1="372.5" x2="205.1" y2="372.5" stroke="#111" stroke-width="1.3" opacity="0.85"/><path d="M154.29999999999998 347.9 V338 H196.5 V358.4" fill="none" stroke="#000" stroke-width="1.6"/><text x="175.0" y="330.8" font-size="8.7" font-weight="bold" text-anchor="middle" fill="#000">0.0250</text><line x1="255.6" y1="375.1" x2="255.6" y2="372.4" stroke="#1a1a1a" stroke-width="1.4"/><line x1="247.0" y1="372.4" x2="264.2" y2="372.4" stroke="#222" stroke-width="1.4"/><rect x="240.0" y="375.1" width="31.2" height="164.4" fill="#fe2a73" stroke="#000" stroke-width="2"/><line x1="297.8" y1="416.5" x2="297.8" y2="412.5" stroke="#1a1a1a" stroke-width="1.4"/><line x1="289.2" y1="412.5" x2="306.40000000000003" y2="412.5" stroke="#222" stroke-width="1.4"/><rect x="282.2" y="416.5" width="31.2" height="123.0" fill="#00fbfb" stroke="#000" stroke-width="2"/><line x1="289.2" y1="417.3" x2="306.40000000000003" y2="417.3" stroke="#111" stroke-width="1.3" opacity="0.85"/><path d="M255.6 362.8 V338 H297.8 V403.1" fill="none" stroke="#000" stroke-width="1.6"/><text x="276.3" y="330.8" font-size="8.7" font-weight="bold" text-anchor="middle" fill="#000">&lt;0.0001</text><line x1="356.90000000000003" y1="381.0" x2="356.90000000000003" y2="376.2" stroke="#1a1a1a" stroke-width="1.4"/><line x1="348.3" y1="376.2" x2="365.50000000000006" y2="376.2" stroke="#222" stroke-width="1.4"/><rect x="341.3" y="381.0" width="31.2" height="158.5" fill="#fe2a73" stroke="#000" stroke-width="2"/><line x1="348.3" y1="382.6" x2="365.50000000000006" y2="382.6" stroke="#111" stroke-width="1.3" opacity="0.85"/><line x1="399.1" y1="400.5" x2="399.1" y2="396.5" stroke="#1a1a1a" stroke-width="1.4"/><line x1="390.5" y1="396.5" x2="407.70000000000005" y2="396.5" stroke="#222" stroke-width="1.4"/><rect x="383.5" y="400.5" width="31.2" height="139.0" fill="#00fbfb" stroke="#000" stroke-width="2"/><line x1="390.5" y1="401.3" x2="407.70000000000005" y2="401.3" stroke="#111" stroke-width="1.3" opacity="0.85"/><path d="M356.90000000000003 366.9 V338 H399.1 V387.2" fill="none" stroke="#000" stroke-width="1.6"/><text x="377.6" y="330.8" font-size="8.7" font-weight="bold" text-anchor="middle" fill="#000">&lt;0.0001</text><line x1="458.20000000000005" y1="426.8" x2="458.20000000000005" y2="424.2" stroke="#1a1a1a" stroke-width="1.4"/><line x1="449.6" y1="424.2" x2="466.80000000000007" y2="424.2" stroke="#222" stroke-width="1.4"/><rect x="442.6" y="426.8" width="31.2" height="112.7" fill="#fe2a73" stroke="#000" stroke-width="2"/><line x1="500.40000000000003" y1="482.1" x2="500.40000000000003" y2="480.0" stroke="#1a1a1a" stroke-width="1.4"/><line x1="491.8" y1="480.0" x2="509.00000000000006" y2="480.0" stroke="#222" stroke-width="1.4"/><rect x="484.8" y="482.1" width="31.2" height="57.4" fill="#00fbfb" stroke="#000" stroke-width="2"/><path d="M458.20000000000005 414.9 V338 H500.40000000000003 V471.1" fill="none" stroke="#000" stroke-width="1.6"/><text x="478.90000000000003" y="330.8" font-size="8.7" font-weight="bold" text-anchor="middle" fill="#000">&lt;0.0001</text><line x1="559.5" y1="434.1" x2="559.5" y2="431.5" stroke="#1a1a1a" stroke-width="1.4"/><line x1="550.9" y1="431.5" x2="568.1" y2="431.5" stroke="#222" stroke-width="1.4"/><rect x="543.9" y="434.1" width="31.2" height="105.4" fill="#fe2a73" stroke="#000" stroke-width="2"/><line x1="601.6999999999999" y1="470.5" x2="601.6999999999999" y2="468.5" stroke="#1a1a1a" stroke-width="1.4"/><line x1="593.0999999999999" y1="468.5" x2="610.3" y2="468.5" stroke="#222" stroke-width="1.4"/><rect x="586.1" y="470.5" width="31.2" height="69.0" fill="#00fbfb" stroke="#000" stroke-width="2"/><path d="M559.5 422.0 V338 H601.6999999999999 V458.8" fill="none" stroke="#000" stroke-width="1.6"/><text x="580.1999999999999" y="330.8" font-size="8.7" font-weight="bold" text-anchor="middle" fill="#000">&lt;0.0001</text><path d="M128.9 316.7 V539.5 H626.5" fill="none" stroke="#000" stroke-width="2.2"/><line x1="120.2" y1="539.5" x2="128.9" y2="539.5" stroke="#000" stroke-width="2.2"/><text transform="translate(117.6 544.25) scale(0.965 1)" font-size="13.2" font-weight="bold" text-anchor="end" fill="#000" stroke="#000" stroke-width="0.15">0</text><line x1="120.2" y1="495.2" x2="128.9" y2="495.2" stroke="#000" stroke-width="2.2"/><text transform="translate(117.6 499.91) scale(0.965 1)" font-size="13.2" font-weight="bold" text-anchor="end" fill="#000" stroke="#000" stroke-width="0.15">5000</text><line x1="120.2" y1="450.8" x2="128.9" y2="450.8" stroke="#000" stroke-width="2.2"/><text transform="translate(117.6 455.57) scale(0.965 1)" font-size="13.2" font-weight="bold" text-anchor="end" fill="#000" stroke="#000" stroke-width="0.15">10000</text><line x1="120.2" y1="406.5" x2="128.9" y2="406.5" stroke="#000" stroke-width="2.2"/><text transform="translate(117.6 411.23) scale(0.965 1)" font-size="13.2" font-weight="bold" text-anchor="end" fill="#000" stroke="#000" stroke-width="0.15">15000</text><line x1="120.2" y1="362.1" x2="128.9" y2="362.1" stroke="#000" stroke-width="2.2"/><text transform="translate(117.6 366.89) scale(0.965 1)" font-size="13.2" font-weight="bold" text-anchor="end" fill="#000" stroke="#000" stroke-width="0.15">20000</text><line x1="120.2" y1="317.8" x2="128.9" y2="317.8" stroke="#000" stroke-width="2.2"/><text transform="translate(117.6 322.55) scale(0.965 1)" font-size="13.2" font-weight="bold" text-anchor="end" fill="#000" stroke="#000" stroke-width="0.15">25000</text><line x1="175.2" y1="539.5" x2="175.2" y2="547.8" stroke="#000" stroke-width="2.2"/><text transform="translate(175.2 562.1) scale(0.965 1)" font-size="13.2" font-weight="bold" text-anchor="middle" fill="#000" stroke="#000" stroke-width="0.15">24</text><line x1="276.5" y1="539.5" x2="276.5" y2="547.8" stroke="#000" stroke-width="2.2"/><text transform="translate(276.5 562.1) scale(0.965 1)" font-size="13.2" font-weight="bold" text-anchor="middle" fill="#000" stroke="#000" stroke-width="0.15">48</text><line x1="377.8" y1="539.5" x2="377.8" y2="547.8" stroke="#000" stroke-width="2.2"/><text transform="translate(377.8 562.1) scale(0.965 1)" font-size="13.2" font-weight="bold" text-anchor="middle" fill="#000" stroke="#000" stroke-width="0.15">72</text><line x1="479.1" y1="539.5" x2="479.1" y2="547.8" stroke="#000" stroke-width="2.2"/><text transform="translate(479.1 562.1) scale(0.965 1)" font-size="13.2" font-weight="bold" text-anchor="middle" fill="#000" stroke="#000" stroke-width="0.15">96</text><line x1="580.4" y1="539.5" x2="580.4" y2="547.8" stroke="#000" stroke-width="2.2"/><text transform="translate(580.4 562.1) scale(0.965 1)" font-size="13.2" font-weight="bold" text-anchor="middle" fill="#000" stroke="#000" stroke-width="0.15">120</text><text transform="translate(377.7 580.7) scale(0.975 1)" font-size="13.8" font-weight="bold" text-anchor="middle" fill="#000" stroke="#000" stroke-width="0.15">Timepoint (hr)</text><text transform="translate(75.5 428.7) rotate(-90) scale(0.962 1)" font-size="14.05" font-weight="bold" text-anchor="middle" fill="#000" stroke="#000" stroke-width="0.15">5meC Mean Intensity (a.u.)</text><rect x="626.2" y="334.2" width="17.7" height="9.5" fill="#fe2a73" stroke="#000" stroke-width="2"/><rect x="626.2" y="357.4" width="17.7" height="9.4" fill="#00fbfb" stroke="#000" stroke-width="2"/><text x="653.6" y="344" font-size="13.7" fill="#000">2.5kPa</text><text x="653.6" y="367.2" font-size="13.7" fill="#000">20kPa</text></g>
</svg>
</body></html>
